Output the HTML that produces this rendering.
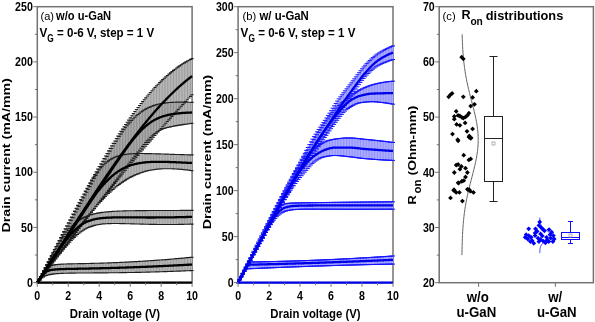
<!DOCTYPE html>
<html><head><meta charset="utf-8"><style>
html,body{margin:0;padding:0;background:#fff;}
body{width:595px;height:322px;overflow:hidden;font-family:"Liberation Sans",sans-serif;}
svg{display:block;will-change:transform;}
</style></head><body>
<svg width="595" height="322" viewBox="0 0 595 322">
<rect width="595" height="322" fill="#fff"/>
<g font-family="Liberation Sans, sans-serif">
<rect x="37.3" y="6.7" width="154.8" height="275.9" fill="none" stroke="#727272" stroke-width="1.5"/>

<path d="M37.30 282.60L38.85 279.68L40.40 276.82L41.94 274.13L43.49 271.76L45.04 269.80L46.59 268.27L48.14 267.12L49.68 266.28L51.23 265.67L52.78 265.23L54.33 264.90L55.88 264.66L57.42 264.47L58.97 264.33L60.52 264.22L62.07 264.13L63.62 264.06L65.16 264.00L66.71 263.95L68.26 263.91L69.81 263.87L71.36 263.83L72.90 263.80L74.45 263.77L76.00 263.73L77.55 263.70L79.10 263.67L80.64 263.64L82.19 263.61L83.74 263.58L85.29 263.55L86.84 263.51L88.38 263.48L89.93 263.44L91.48 263.40L93.03 263.36L94.58 263.32L96.12 263.28L97.67 263.24L99.22 263.19L100.77 263.14L102.32 263.10L103.86 263.04L105.41 262.99L106.96 262.94L108.51 262.88L110.06 262.83L111.60 262.77L113.15 262.71L114.70 262.65L116.25 262.58L117.80 262.52L119.34 262.45L120.89 262.38L122.44 262.31L123.99 262.23L125.54 262.16L127.08 262.08L128.63 262.00L130.18 261.92L131.73 261.84L133.28 261.76L134.82 261.67L136.37 261.59L137.92 261.50L139.47 261.41L141.02 261.31L142.56 261.22L144.11 261.12L145.66 261.02L147.21 260.92L148.76 260.82L150.30 260.72L151.85 260.61L153.40 260.50L154.95 260.39L156.50 260.28L158.04 260.17L159.59 260.05L161.14 259.94L162.69 259.82L164.24 259.70L165.78 259.58L167.33 259.45L168.88 259.33L170.43 259.20L171.98 259.07L173.52 258.94L175.07 258.80L176.62 258.67L178.17 258.53L179.72 258.39L181.26 258.25L182.81 258.11L184.36 257.97L185.91 257.82L187.46 257.67L189.00 257.52L190.55 257.37L192.10 257.22L192.10 270.54L190.55 270.61L189.00 270.68L187.46 270.75L185.91 270.82L184.36 270.88L182.81 270.95L181.26 271.01L179.72 271.08L178.17 271.14L176.62 271.20L175.07 271.26L173.52 271.32L171.98 271.38L170.43 271.43L168.88 271.49L167.33 271.54L165.78 271.60L164.24 271.65L162.69 271.70L161.14 271.75L159.59 271.80L158.04 271.85L156.50 271.89L154.95 271.94L153.40 271.98L151.85 272.03L150.30 272.07L148.76 272.11L147.21 272.15L145.66 272.19L144.11 272.23L142.56 272.26L141.02 272.30L139.47 272.33L137.92 272.37L136.37 272.40L134.82 272.43L133.28 272.46L131.73 272.49L130.18 272.52L128.63 272.55L127.08 272.57L125.54 272.60L123.99 272.62L122.44 272.65L120.89 272.67L119.34 272.69L117.80 272.71L116.25 272.73L114.70 272.75L113.15 272.77L111.60 272.78L110.06 272.80L108.51 272.82L106.96 272.83L105.41 272.84L103.86 272.86L102.32 272.87L100.77 272.88L99.22 272.89L97.67 272.90L96.12 272.91L94.58 272.92L93.03 272.93L91.48 272.94L89.93 272.95L88.38 272.96L86.84 272.97L85.29 272.98L83.74 272.99L82.19 273.00L80.64 273.01L79.10 273.03L77.55 273.04L76.00 273.06L74.45 273.08L72.90 273.10L71.36 273.12L69.81 273.15L68.26 273.18L66.71 273.22L65.16 273.26L63.62 273.31L62.07 273.37L60.52 273.45L58.97 273.54L57.42 273.64L55.88 273.77L54.33 273.92L52.78 274.11L51.23 274.35L49.68 274.64L48.14 275.01L46.59 275.47L45.04 276.06L43.49 276.83L41.94 277.81L40.40 279.08L38.85 280.68L37.30 282.60ZM37.30 282.60L38.85 279.74L40.40 276.88L41.94 274.03L43.49 271.17L45.04 268.32L46.59 265.47L48.14 262.64L49.68 259.82L51.23 257.02L52.78 254.25L54.33 251.52L55.88 248.84L57.42 246.22L58.97 243.66L60.52 241.19L62.07 238.80L63.62 236.52L65.16 234.35L66.71 232.29L68.26 230.36L69.81 228.55L71.36 226.87L72.90 225.31L74.45 223.87L76.00 222.56L77.55 221.36L79.10 220.26L80.64 219.27L82.19 218.37L83.74 217.56L85.29 216.83L86.84 216.18L88.38 215.59L89.93 215.06L91.48 214.58L93.03 214.16L94.58 213.78L96.12 213.43L97.67 213.13L99.22 212.85L100.77 212.61L102.32 212.39L103.86 212.19L105.41 212.02L106.96 211.86L108.51 211.72L110.06 211.59L111.60 211.48L113.15 211.37L114.70 211.28L116.25 211.20L117.80 211.13L119.34 211.06L120.89 211.00L122.44 210.95L123.99 210.90L125.54 210.86L127.08 210.82L128.63 210.79L130.18 210.76L131.73 210.73L133.28 210.70L134.82 210.68L136.37 210.66L137.92 210.65L139.47 210.63L141.02 210.62L142.56 210.60L144.11 210.59L145.66 210.58L147.21 210.57L148.76 210.56L150.30 210.55L151.85 210.55L153.40 210.54L154.95 210.53L156.50 210.53L158.04 210.52L159.59 210.52L161.14 210.51L162.69 210.50L164.24 210.50L165.78 210.49L167.33 210.49L168.88 210.48L170.43 210.48L171.98 210.47L173.52 210.46L175.07 210.46L176.62 210.45L178.17 210.44L179.72 210.43L181.26 210.42L182.81 210.42L184.36 210.41L185.91 210.40L187.46 210.39L189.00 210.38L190.55 210.37L192.10 210.35L192.10 224.11L190.55 224.16L189.00 224.20L187.46 224.25L185.91 224.28L184.36 224.32L182.81 224.35L181.26 224.38L179.72 224.40L178.17 224.43L176.62 224.45L175.07 224.46L173.52 224.48L171.98 224.49L170.43 224.49L168.88 224.50L167.33 224.50L165.78 224.50L164.24 224.49L162.69 224.48L161.14 224.47L159.59 224.46L158.04 224.44L156.50 224.43L154.95 224.40L153.40 224.38L151.85 224.35L150.30 224.33L148.76 224.30L147.21 224.26L145.66 224.23L144.11 224.19L142.56 224.15L141.02 224.11L139.47 224.07L137.92 224.03L136.37 223.98L134.82 223.94L133.28 223.90L131.73 223.85L130.18 223.81L128.63 223.76L127.08 223.72L125.54 223.68L123.99 223.64L122.44 223.61L120.89 223.58L119.34 223.56L117.80 223.54L116.25 223.53L114.70 223.52L113.15 223.53L111.60 223.55L110.06 223.59L108.51 223.64L106.96 223.71L105.41 223.81L103.86 223.92L102.32 224.07L100.77 224.26L99.22 224.48L97.67 224.74L96.12 225.05L94.58 225.41L93.03 225.84L91.48 226.33L89.93 226.89L88.38 227.53L86.84 228.25L85.29 229.06L83.74 229.96L82.19 230.95L80.64 232.04L79.10 233.23L77.55 234.51L76.00 235.87L74.45 237.33L72.90 238.86L71.36 240.47L69.81 242.14L68.26 243.87L66.71 245.65L65.16 247.47L63.62 249.32L62.07 251.21L60.52 253.12L58.97 255.04L57.42 256.98L55.88 258.93L54.33 260.89L52.78 262.86L51.23 264.83L49.68 266.80L48.14 268.77L46.59 270.75L45.04 272.72L43.49 274.70L41.94 276.67L40.40 278.65L38.85 280.62L37.30 282.60ZM37.30 282.60L38.85 279.63L40.40 276.66L41.94 273.69L43.49 270.73L45.04 267.76L46.59 264.79L48.14 261.82L49.68 258.85L51.23 255.88L52.78 252.91L54.33 249.94L55.88 246.98L57.42 244.01L58.97 241.04L60.52 238.07L62.07 235.10L63.62 232.14L65.16 229.17L66.71 226.21L68.26 223.25L69.81 220.29L71.36 217.34L72.90 214.39L74.45 211.45L76.00 208.53L77.55 205.61L79.10 202.72L80.64 199.84L82.19 197.00L83.74 194.18L85.29 191.41L86.84 188.69L88.38 186.03L89.93 183.43L91.48 180.91L93.03 178.48L94.58 176.15L96.12 173.93L97.67 171.83L99.22 169.85L100.77 168.01L102.32 166.30L103.86 164.73L105.41 163.29L106.96 161.99L108.51 160.83L110.06 159.78L111.60 158.86L113.15 158.04L114.70 157.32L116.25 156.70L117.80 156.16L119.34 155.69L120.89 155.29L122.44 154.95L123.99 154.66L125.54 154.42L127.08 154.22L128.63 154.05L130.18 153.92L131.73 153.81L133.28 153.72L134.82 153.66L136.37 153.61L137.92 153.58L139.47 153.56L141.02 153.55L142.56 153.55L144.11 153.56L145.66 153.58L147.21 153.60L148.76 153.63L150.30 153.66L151.85 153.70L153.40 153.74L154.95 153.78L156.50 153.83L158.04 153.88L159.59 153.92L161.14 153.97L162.69 154.02L164.24 154.07L165.78 154.12L167.33 154.17L168.88 154.23L170.43 154.28L171.98 154.33L173.52 154.38L175.07 154.43L176.62 154.47L178.17 154.52L179.72 154.57L181.26 154.62L182.81 154.66L184.36 154.71L185.91 154.75L187.46 154.79L189.00 154.83L190.55 154.87L192.10 154.91L192.10 170.69L190.55 170.47L189.00 170.27L187.46 170.07L185.91 169.89L184.36 169.71L182.81 169.55L181.26 169.40L179.72 169.26L178.17 169.13L176.62 169.02L175.07 168.93L173.52 168.85L171.98 168.79L170.43 168.74L168.88 168.72L167.33 168.71L165.78 168.72L164.24 168.76L162.69 168.82L161.14 168.90L159.59 169.01L158.04 169.15L156.50 169.31L154.95 169.50L153.40 169.72L151.85 169.97L150.30 170.25L148.76 170.57L147.21 170.92L145.66 171.31L144.11 171.73L142.56 172.20L141.02 172.70L139.47 173.24L137.92 173.83L136.37 174.45L134.82 175.12L133.28 175.84L131.73 176.59L130.18 177.40L128.63 178.25L127.08 179.15L125.54 180.09L123.99 181.08L122.44 182.12L120.89 183.20L119.34 184.34L117.80 185.51L116.25 186.74L114.70 188.01L113.15 189.33L111.60 190.69L110.06 192.09L108.51 193.54L106.96 195.02L105.41 196.55L103.86 198.11L102.32 199.72L100.77 201.35L99.22 203.03L97.67 204.73L96.12 206.47L94.58 208.23L93.03 210.02L91.48 211.84L89.93 213.68L88.38 215.55L86.84 217.44L85.29 219.34L83.74 221.27L82.19 223.21L80.64 225.17L79.10 227.14L77.55 229.13L76.00 231.12L74.45 233.13L72.90 235.15L71.36 237.17L69.81 239.21L68.26 241.25L66.71 243.29L65.16 245.34L63.62 247.40L62.07 249.45L60.52 251.52L58.97 253.58L57.42 255.65L55.88 257.72L54.33 259.79L52.78 261.86L51.23 263.93L49.68 266.00L48.14 268.08L46.59 270.15L45.04 272.23L43.49 274.30L41.94 276.38L40.40 278.45L38.85 280.53L37.30 282.60ZM37.30 282.60L38.85 279.77L40.40 276.95L41.94 274.12L43.49 271.30L45.04 268.47L46.59 265.65L48.14 262.82L49.68 260.00L51.23 257.17L52.78 254.35L54.33 251.52L55.88 248.70L57.42 245.87L58.97 243.05L60.52 240.22L62.07 237.40L63.62 234.57L65.16 231.75L66.71 228.92L68.26 226.10L69.81 223.27L71.36 220.45L72.90 217.62L74.45 214.80L76.00 211.98L77.55 209.15L79.10 206.33L80.64 203.51L82.19 200.69L83.74 197.87L85.29 195.06L86.84 192.24L88.38 189.43L89.93 186.63L91.48 183.83L93.03 181.03L94.58 178.24L96.12 175.46L97.67 172.69L99.22 169.93L100.77 167.18L102.32 164.45L103.86 161.74L105.41 159.05L106.96 156.38L108.51 153.74L110.06 151.13L111.60 148.56L113.15 146.03L114.70 143.54L116.25 141.09L117.80 138.70L119.34 136.37L120.89 134.11L122.44 131.91L123.99 129.78L125.54 127.73L127.08 125.76L128.63 123.88L130.18 122.08L131.73 120.38L133.28 118.76L134.82 117.24L136.37 115.81L137.92 114.47L139.47 113.23L141.02 112.07L142.56 111.00L144.11 110.01L145.66 109.10L147.21 108.28L148.76 107.52L150.30 106.83L151.85 106.21L153.40 105.65L154.95 105.14L156.50 104.69L158.04 104.29L159.59 103.94L161.14 103.62L162.69 103.34L164.24 103.10L165.78 102.89L167.33 102.72L168.88 102.56L170.43 102.44L171.98 102.33L173.52 102.25L175.07 102.19L176.62 102.14L178.17 102.11L179.72 102.09L181.26 102.08L182.81 102.09L184.36 102.11L185.91 102.14L187.46 102.17L189.00 102.22L190.55 102.27L192.10 102.33L192.10 123.24L190.55 123.48L189.00 123.71L187.46 123.95L185.91 124.18L184.36 124.42L182.81 124.66L181.26 124.90L179.72 125.14L178.17 125.39L176.62 125.65L175.07 125.92L173.52 126.20L171.98 126.50L170.43 126.83L168.88 127.18L167.33 127.56L165.78 128.00L164.24 128.49L162.69 129.05L161.14 129.70L159.59 130.46L158.04 131.32L156.50 132.31L154.95 133.43L153.40 134.69L151.85 136.07L150.30 137.57L148.76 139.18L147.21 140.88L145.66 142.65L144.11 144.48L142.56 146.35L141.02 148.26L139.47 150.20L137.92 152.16L136.37 154.13L134.82 156.12L133.28 158.11L131.73 160.10L130.18 162.10L128.63 164.11L127.08 166.11L125.54 168.12L123.99 170.12L122.44 172.13L120.89 174.14L119.34 176.15L117.80 178.16L116.25 180.16L114.70 182.17L113.15 184.18L111.60 186.19L110.06 188.20L108.51 190.21L106.96 192.22L105.41 194.22L103.86 196.23L102.32 198.24L100.77 200.25L99.22 202.26L97.67 204.27L96.12 206.28L94.58 208.28L93.03 210.29L91.48 212.30L89.93 214.31L88.38 216.32L86.84 218.33L85.29 220.33L83.74 222.34L82.19 224.35L80.64 226.36L79.10 228.37L77.55 230.38L76.00 232.39L74.45 234.39L72.90 236.40L71.36 238.41L69.81 240.42L68.26 242.43L66.71 244.44L65.16 246.45L63.62 248.45L62.07 250.46L60.52 252.47L58.97 254.48L57.42 256.49L55.88 258.50L54.33 260.51L52.78 262.51L51.23 264.52L49.68 266.53L48.14 268.54L46.59 270.55L45.04 272.56L43.49 274.57L41.94 276.57L40.40 278.58L38.85 280.59L37.30 282.60ZM37.30 282.60L38.85 279.59L40.40 276.57L41.94 273.56L43.49 270.55L45.04 267.54L46.59 264.53L48.14 261.53L49.68 258.53L51.23 255.52L52.78 252.53L54.33 249.53L55.88 246.54L57.42 243.56L58.97 240.58L60.52 237.60L62.07 234.64L63.62 231.67L65.16 228.72L66.71 225.77L68.26 222.83L69.81 219.90L71.36 216.98L72.90 214.06L74.45 211.16L76.00 208.26L77.55 205.38L79.10 202.51L80.64 199.65L82.19 196.81L83.74 193.97L85.29 191.16L86.84 188.35L88.38 185.56L89.93 182.79L91.48 180.03L93.03 177.29L94.58 174.56L96.12 171.85L97.67 169.16L99.22 166.49L100.77 163.84L102.32 161.21L103.86 158.60L105.41 156.01L106.96 153.45L108.51 150.90L110.06 148.38L111.60 145.88L113.15 143.41L114.70 140.96L116.25 138.53L117.80 136.13L119.34 133.76L120.89 131.41L122.44 129.09L123.99 126.80L125.54 124.53L127.08 122.30L128.63 120.09L130.18 117.91L131.73 115.77L133.28 113.65L134.82 111.56L136.37 109.51L137.92 107.48L139.47 105.49L141.02 103.53L142.56 101.61L144.11 99.71L145.66 97.85L147.21 96.02L148.76 94.23L150.30 92.47L151.85 90.75L153.40 89.06L154.95 87.41L156.50 85.79L158.04 84.21L159.59 82.66L161.14 81.15L162.69 79.67L164.24 78.23L165.78 76.83L167.33 75.46L168.88 74.13L170.43 72.84L171.98 71.58L173.52 70.36L175.07 69.18L176.62 68.03L178.17 66.92L179.72 65.85L181.26 64.81L182.81 63.81L184.36 62.85L185.91 61.92L187.46 61.03L189.00 60.18L190.55 59.36L192.10 58.58L192.10 94.79L190.55 96.42L189.00 98.05L187.46 99.68L185.91 101.33L184.36 102.98L182.81 104.63L181.26 106.29L179.72 107.96L178.17 109.64L176.62 111.32L175.07 113.01L173.52 114.70L171.98 116.41L170.43 118.11L168.88 119.83L167.33 121.55L165.78 123.27L164.24 125.00L162.69 126.74L161.14 128.49L159.59 130.24L158.04 131.99L156.50 133.76L154.95 135.52L153.40 137.30L151.85 139.08L150.30 140.86L148.76 142.65L147.21 144.45L145.66 146.25L144.11 148.06L142.56 149.88L141.02 151.70L139.47 153.52L137.92 155.35L136.37 157.19L134.82 159.03L133.28 160.87L131.73 162.73L130.18 164.58L128.63 166.44L127.08 168.31L125.54 170.18L123.99 172.06L122.44 173.94L120.89 175.83L119.34 177.72L117.80 179.62L116.25 181.52L114.70 183.42L113.15 185.33L111.60 187.25L110.06 189.17L108.51 191.09L106.96 193.02L105.41 194.95L103.86 196.89L102.32 198.83L100.77 200.77L99.22 202.72L97.67 204.68L96.12 206.63L94.58 208.60L93.03 210.56L91.48 212.53L89.93 214.50L88.38 216.48L86.84 218.46L85.29 220.45L83.74 222.43L82.19 224.43L80.64 226.42L79.10 228.42L77.55 230.42L76.00 232.43L74.45 234.44L72.90 236.45L71.36 238.47L69.81 240.49L68.26 242.51L66.71 244.54L65.16 246.57L63.62 248.61L62.07 250.65L60.52 252.69L58.97 254.74L57.42 256.80L55.88 258.86L54.33 260.93L52.78 263.00L51.23 265.09L49.68 267.19L48.14 269.30L46.59 271.44L45.04 273.59L43.49 275.78L41.94 278.00L40.40 280.24L38.85 281.50L37.30 282.60Z" fill="#cacaca" stroke="none"/>
<path d="M37.30 282.60V282.60M38.85 279.68V280.68M40.40 276.82V279.08M41.94 274.13V277.81M43.49 271.76V276.83M45.04 269.80V276.06M46.59 268.27V275.47M48.14 267.12V275.01M49.68 266.28V274.64M51.23 265.67V274.35M52.78 265.23V274.11M54.33 264.90V273.92M55.88 264.66V273.77M57.42 264.47V273.64M58.97 264.33V273.54M60.52 264.22V273.45M62.07 264.13V273.37M63.62 264.06V273.31M65.16 264.00V273.26M66.71 263.95V273.22M68.26 263.91V273.18M69.81 263.87V273.15M71.36 263.83V273.12M72.90 263.80V273.10M74.45 263.77V273.08M76.00 263.73V273.06M77.55 263.70V273.04M79.10 263.67V273.03M80.64 263.64V273.01M82.19 263.61V273.00M83.74 263.58V272.99M85.29 263.55V272.98M86.84 263.51V272.97M88.38 263.48V272.96M89.93 263.44V272.95M91.48 263.40V272.94M93.03 263.36V272.93M94.58 263.32V272.92M96.12 263.28V272.91M97.67 263.24V272.90M99.22 263.19V272.89M100.77 263.14V272.88M102.32 263.10V272.87M103.86 263.04V272.86M105.41 262.99V272.84M106.96 262.94V272.83M108.51 262.88V272.82M110.06 262.83V272.80M111.60 262.77V272.78M113.15 262.71V272.77M114.70 262.65V272.75M116.25 262.58V272.73M117.80 262.52V272.71M119.34 262.45V272.69M120.89 262.38V272.67M122.44 262.31V272.65M123.99 262.23V272.62M125.54 262.16V272.60M127.08 262.08V272.57M128.63 262.00V272.55M130.18 261.92V272.52M131.73 261.84V272.49M133.28 261.76V272.46M134.82 261.67V272.43M136.37 261.59V272.40M137.92 261.50V272.37M139.47 261.41V272.33M141.02 261.31V272.30M142.56 261.22V272.26M144.11 261.12V272.23M145.66 261.02V272.19M147.21 260.92V272.15M148.76 260.82V272.11M150.30 260.72V272.07M151.85 260.61V272.03M153.40 260.50V271.98M154.95 260.39V271.94M156.50 260.28V271.89M158.04 260.17V271.85M159.59 260.05V271.80M161.14 259.94V271.75M162.69 259.82V271.70M164.24 259.70V271.65M165.78 259.58V271.60M167.33 259.45V271.54M168.88 259.33V271.49M170.43 259.20V271.43M171.98 259.07V271.38M173.52 258.94V271.32M175.07 258.80V271.26M176.62 258.67V271.20M178.17 258.53V271.14M179.72 258.39V271.08M181.26 258.25V271.01M182.81 258.11V270.95M184.36 257.97V270.88M185.91 257.82V270.82M187.46 257.67V270.75M189.00 257.52V270.68M190.55 257.37V270.61M192.10 257.22V270.54M37.30 282.60V282.60M38.85 279.74V280.62M40.40 276.88V278.65M41.94 274.03V276.67M43.49 271.17V274.70M45.04 268.32V272.72M46.59 265.47V270.75M48.14 262.64V268.77M49.68 259.82V266.80M51.23 257.02V264.83M52.78 254.25V262.86M54.33 251.52V260.89M55.88 248.84V258.93M57.42 246.22V256.98M58.97 243.66V255.04M60.52 241.19V253.12M62.07 238.80V251.21M63.62 236.52V249.32M65.16 234.35V247.47M66.71 232.29V245.65M68.26 230.36V243.87M69.81 228.55V242.14M71.36 226.87V240.47M72.90 225.31V238.86M74.45 223.87V237.33M76.00 222.56V235.87M77.55 221.36V234.51M79.10 220.26V233.23M80.64 219.27V232.04M82.19 218.37V230.95M83.74 217.56V229.96M85.29 216.83V229.06M86.84 216.18V228.25M88.38 215.59V227.53M89.93 215.06V226.89M91.48 214.58V226.33M93.03 214.16V225.84M94.58 213.78V225.41M96.12 213.43V225.05M97.67 213.13V224.74M99.22 212.85V224.48M100.77 212.61V224.26M102.32 212.39V224.07M103.86 212.19V223.92M105.41 212.02V223.81M106.96 211.86V223.71M108.51 211.72V223.64M110.06 211.59V223.59M111.60 211.48V223.55M113.15 211.37V223.53M114.70 211.28V223.52M116.25 211.20V223.53M117.80 211.13V223.54M119.34 211.06V223.56M120.89 211.00V223.58M122.44 210.95V223.61M123.99 210.90V223.64M125.54 210.86V223.68M127.08 210.82V223.72M128.63 210.79V223.76M130.18 210.76V223.81M131.73 210.73V223.85M133.28 210.70V223.90M134.82 210.68V223.94M136.37 210.66V223.98M137.92 210.65V224.03M139.47 210.63V224.07M141.02 210.62V224.11M142.56 210.60V224.15M144.11 210.59V224.19M145.66 210.58V224.23M147.21 210.57V224.26M148.76 210.56V224.30M150.30 210.55V224.33M151.85 210.55V224.35M153.40 210.54V224.38M154.95 210.53V224.40M156.50 210.53V224.43M158.04 210.52V224.44M159.59 210.52V224.46M161.14 210.51V224.47M162.69 210.50V224.48M164.24 210.50V224.49M165.78 210.49V224.50M167.33 210.49V224.50M168.88 210.48V224.50M170.43 210.48V224.49M171.98 210.47V224.49M173.52 210.46V224.48M175.07 210.46V224.46M176.62 210.45V224.45M178.17 210.44V224.43M179.72 210.43V224.40M181.26 210.42V224.38M182.81 210.42V224.35M184.36 210.41V224.32M185.91 210.40V224.28M187.46 210.39V224.25M189.00 210.38V224.20M190.55 210.37V224.16M192.10 210.35V224.11M37.30 282.60V282.60M38.85 279.63V280.53M40.40 276.66V278.45M41.94 273.69V276.38M43.49 270.73V274.30M45.04 267.76V272.23M46.59 264.79V270.15M48.14 261.82V268.08M49.68 258.85V266.00M51.23 255.88V263.93M52.78 252.91V261.86M54.33 249.94V259.79M55.88 246.98V257.72M57.42 244.01V255.65M58.97 241.04V253.58M60.52 238.07V251.52M62.07 235.10V249.45M63.62 232.14V247.40M65.16 229.17V245.34M66.71 226.21V243.29M68.26 223.25V241.25M69.81 220.29V239.21M71.36 217.34V237.17M72.90 214.39V235.15M74.45 211.45V233.13M76.00 208.53V231.12M77.55 205.61V229.13M79.10 202.72V227.14M80.64 199.84V225.17M82.19 197.00V223.21M83.74 194.18V221.27M85.29 191.41V219.34M86.84 188.69V217.44M88.38 186.03V215.55M89.93 183.43V213.68M91.48 180.91V211.84M93.03 178.48V210.02M94.58 176.15V208.23M96.12 173.93V206.47M97.67 171.83V204.73M99.22 169.85V203.03M100.77 168.01V201.35M102.32 166.30V199.72M103.86 164.73V198.11M105.41 163.29V196.55M106.96 161.99V195.02M108.51 160.83V193.54M110.06 159.78V192.09M111.60 158.86V190.69M113.15 158.04V189.33M114.70 157.32V188.01M116.25 156.70V186.74M117.80 156.16V185.51M119.34 155.69V184.34M120.89 155.29V183.20M122.44 154.95V182.12M123.99 154.66V181.08M125.54 154.42V180.09M127.08 154.22V179.15M128.63 154.05V178.25M130.18 153.92V177.40M131.73 153.81V176.59M133.28 153.72V175.84M134.82 153.66V175.12M136.37 153.61V174.45M137.92 153.58V173.83M139.47 153.56V173.24M141.02 153.55V172.70M142.56 153.55V172.20M144.11 153.56V171.73M145.66 153.58V171.31M147.21 153.60V170.92M148.76 153.63V170.57M150.30 153.66V170.25M151.85 153.70V169.97M153.40 153.74V169.72M154.95 153.78V169.50M156.50 153.83V169.31M158.04 153.88V169.15M159.59 153.92V169.01M161.14 153.97V168.90M162.69 154.02V168.82M164.24 154.07V168.76M165.78 154.12V168.72M167.33 154.17V168.71M168.88 154.23V168.72M170.43 154.28V168.74M171.98 154.33V168.79M173.52 154.38V168.85M175.07 154.43V168.93M176.62 154.47V169.02M178.17 154.52V169.13M179.72 154.57V169.26M181.26 154.62V169.40M182.81 154.66V169.55M184.36 154.71V169.71M185.91 154.75V169.89M187.46 154.79V170.07M189.00 154.83V170.27M190.55 154.87V170.47M192.10 154.91V170.69M37.30 282.60V282.60M38.85 279.77V280.59M40.40 276.95V278.58M41.94 274.12V276.57M43.49 271.30V274.57M45.04 268.47V272.56M46.59 265.65V270.55M48.14 262.82V268.54M49.68 260.00V266.53M51.23 257.17V264.52M52.78 254.35V262.51M54.33 251.52V260.51M55.88 248.70V258.50M57.42 245.87V256.49M58.97 243.05V254.48M60.52 240.22V252.47M62.07 237.40V250.46M63.62 234.57V248.45M65.16 231.75V246.45M66.71 228.92V244.44M68.26 226.10V242.43M69.81 223.27V240.42M71.36 220.45V238.41M72.90 217.62V236.40M74.45 214.80V234.39M76.00 211.98V232.39M77.55 209.15V230.38M79.10 206.33V228.37M80.64 203.51V226.36M82.19 200.69V224.35M83.74 197.87V222.34M85.29 195.06V220.33M86.84 192.24V218.33M88.38 189.43V216.32M89.93 186.63V214.31M91.48 183.83V212.30M93.03 181.03V210.29M94.58 178.24V208.28M96.12 175.46V206.28M97.67 172.69V204.27M99.22 169.93V202.26M100.77 167.18V200.25M102.32 164.45V198.24M103.86 161.74V196.23M105.41 159.05V194.22M106.96 156.38V192.22M108.51 153.74V190.21M110.06 151.13V188.20M111.60 148.56V186.19M113.15 146.03V184.18M114.70 143.54V182.17M116.25 141.09V180.16M117.80 138.70V178.16M119.34 136.37V176.15M120.89 134.11V174.14M122.44 131.91V172.13M123.99 129.78V170.12M125.54 127.73V168.12M127.08 125.76V166.11M128.63 123.88V164.11M130.18 122.08V162.10M131.73 120.38V160.10M133.28 118.76V158.11M134.82 117.24V156.12M136.37 115.81V154.13M137.92 114.47V152.16M139.47 113.23V150.20M141.02 112.07V148.26M142.56 111.00V146.35M144.11 110.01V144.48M145.66 109.10V142.65M147.21 108.28V140.88M148.76 107.52V139.18M150.30 106.83V137.57M151.85 106.21V136.07M153.40 105.65V134.69M154.95 105.14V133.43M156.50 104.69V132.31M158.04 104.29V131.32M159.59 103.94V130.46M161.14 103.62V129.70M162.69 103.34V129.05M164.24 103.10V128.49M165.78 102.89V128.00M167.33 102.72V127.56M168.88 102.56V127.18M170.43 102.44V126.83M171.98 102.33V126.50M173.52 102.25V126.20M175.07 102.19V125.92M176.62 102.14V125.65M178.17 102.11V125.39M179.72 102.09V125.14M181.26 102.08V124.90M182.81 102.09V124.66M184.36 102.11V124.42M185.91 102.14V124.18M187.46 102.17V123.95M189.00 102.22V123.71M190.55 102.27V123.48M192.10 102.33V123.24M37.30 282.60V282.60M38.85 279.59V281.50M40.40 276.57V280.24M41.94 273.56V278.00M43.49 270.55V275.78M45.04 267.54V273.59M46.59 264.53V271.44M48.14 261.53V269.30M49.68 258.53V267.19M51.23 255.52V265.09M52.78 252.53V263.00M54.33 249.53V260.93M55.88 246.54V258.86M57.42 243.56V256.80M58.97 240.58V254.74M60.52 237.60V252.69M62.07 234.64V250.65M63.62 231.67V248.61M65.16 228.72V246.57M66.71 225.77V244.54M68.26 222.83V242.51M69.81 219.90V240.49M71.36 216.98V238.47M72.90 214.06V236.45M74.45 211.16V234.44M76.00 208.26V232.43M77.55 205.38V230.42M79.10 202.51V228.42M80.64 199.65V226.42M82.19 196.81V224.43M83.74 193.97V222.43M85.29 191.16V220.45M86.84 188.35V218.46M88.38 185.56V216.48M89.93 182.79V214.50M91.48 180.03V212.53M93.03 177.29V210.56M94.58 174.56V208.60M96.12 171.85V206.63M97.67 169.16V204.68M99.22 166.49V202.72M100.77 163.84V200.77M102.32 161.21V198.83M103.86 158.60V196.89M105.41 156.01V194.95M106.96 153.45V193.02M108.51 150.90V191.09M110.06 148.38V189.17M111.60 145.88V187.25M113.15 143.41V185.33M114.70 140.96V183.42M116.25 138.53V181.52M117.80 136.13V179.62M119.34 133.76V177.72M120.89 131.41V175.83M122.44 129.09V173.94M123.99 126.80V172.06M125.54 124.53V170.18M127.08 122.30V168.31M128.63 120.09V166.44M130.18 117.91V164.58M131.73 115.77V162.73M133.28 113.65V160.87M134.82 111.56V159.03M136.37 109.51V157.19M137.92 107.48V155.35M139.47 105.49V153.52M141.02 103.53V151.70M142.56 101.61V149.88M144.11 99.71V148.06M145.66 97.85V146.25M147.21 96.02V144.45M148.76 94.23V142.65M150.30 92.47V140.86M151.85 90.75V139.08M153.40 89.06V137.30M154.95 87.41V135.52M156.50 85.79V133.76M158.04 84.21V131.99M159.59 82.66V130.24M161.14 81.15V128.49M162.69 79.67V126.74M164.24 78.23V125.00M165.78 76.83V123.27M167.33 75.46V121.55M168.88 74.13V119.83M170.43 72.84V118.11M171.98 71.58V116.41M173.52 70.36V114.70M175.07 69.18V113.01M176.62 68.03V111.32M178.17 66.92V109.64M179.72 65.85V107.96M181.26 64.81V106.29M182.81 63.81V104.63M184.36 62.85V102.98M185.91 61.92V101.33M187.46 61.03V99.68M189.00 60.18V98.05M190.55 59.36V96.42M192.10 58.58V94.79" stroke="#8a8a8a" stroke-width="0.7" fill="none"/>
<path d="M35.80 282.60h3.0M35.80 282.60h3.0M37.35 279.68h3.0M37.35 280.68h3.0M38.90 276.82h3.0M38.90 279.08h3.0M40.44 274.13h3.0M40.44 277.81h3.0M41.99 271.76h3.0M41.99 276.83h3.0M43.54 269.80h3.0M43.54 276.06h3.0M45.09 268.27h3.0M45.09 275.47h3.0M46.64 267.12h3.0M46.64 275.01h3.0M48.18 266.28h3.0M48.18 274.64h3.0M49.73 265.67h3.0M49.73 274.35h3.0M51.28 265.23h3.0M51.28 274.11h3.0M52.83 264.90h3.0M52.83 273.92h3.0M54.38 264.66h3.0M54.38 273.77h3.0M55.92 264.47h3.0M55.92 273.64h3.0M57.47 264.33h3.0M57.47 273.54h3.0M59.02 264.22h3.0M59.02 273.45h3.0M60.57 264.13h3.0M60.57 273.37h3.0M62.12 264.06h3.0M62.12 273.31h3.0M63.66 264.00h3.0M63.66 273.26h3.0M65.21 263.95h3.0M65.21 273.22h3.0M66.76 263.91h3.0M66.76 273.18h3.0M68.31 263.87h3.0M68.31 273.15h3.0M69.86 263.83h3.0M69.86 273.12h3.0M71.40 263.80h3.0M71.40 273.10h3.0M72.95 263.77h3.0M72.95 273.08h3.0M74.50 263.73h3.0M74.50 273.06h3.0M76.05 263.70h3.0M76.05 273.04h3.0M77.60 263.67h3.0M77.60 273.03h3.0M79.14 263.64h3.0M79.14 273.01h3.0M80.69 263.61h3.0M80.69 273.00h3.0M82.24 263.58h3.0M82.24 272.99h3.0M83.79 263.55h3.0M83.79 272.98h3.0M85.34 263.51h3.0M85.34 272.97h3.0M86.88 263.48h3.0M86.88 272.96h3.0M88.43 263.44h3.0M88.43 272.95h3.0M89.98 263.40h3.0M89.98 272.94h3.0M91.53 263.36h3.0M91.53 272.93h3.0M93.08 263.32h3.0M93.08 272.92h3.0M94.62 263.28h3.0M94.62 272.91h3.0M96.17 263.24h3.0M96.17 272.90h3.0M97.72 263.19h3.0M97.72 272.89h3.0M99.27 263.14h3.0M99.27 272.88h3.0M100.82 263.10h3.0M100.82 272.87h3.0M102.36 263.04h3.0M102.36 272.86h3.0M103.91 262.99h3.0M103.91 272.84h3.0M105.46 262.94h3.0M105.46 272.83h3.0M107.01 262.88h3.0M107.01 272.82h3.0M108.56 262.83h3.0M108.56 272.80h3.0M110.10 262.77h3.0M110.10 272.78h3.0M111.65 262.71h3.0M111.65 272.77h3.0M113.20 262.65h3.0M113.20 272.75h3.0M114.75 262.58h3.0M114.75 272.73h3.0M116.30 262.52h3.0M116.30 272.71h3.0M117.84 262.45h3.0M117.84 272.69h3.0M119.39 262.38h3.0M119.39 272.67h3.0M120.94 262.31h3.0M120.94 272.65h3.0M122.49 262.23h3.0M122.49 272.62h3.0M124.04 262.16h3.0M124.04 272.60h3.0M125.58 262.08h3.0M125.58 272.57h3.0M127.13 262.00h3.0M127.13 272.55h3.0M128.68 261.92h3.0M128.68 272.52h3.0M130.23 261.84h3.0M130.23 272.49h3.0M131.78 261.76h3.0M131.78 272.46h3.0M133.32 261.67h3.0M133.32 272.43h3.0M134.87 261.59h3.0M134.87 272.40h3.0M136.42 261.50h3.0M136.42 272.37h3.0M137.97 261.41h3.0M137.97 272.33h3.0M139.52 261.31h3.0M139.52 272.30h3.0M141.06 261.22h3.0M141.06 272.26h3.0M142.61 261.12h3.0M142.61 272.23h3.0M144.16 261.02h3.0M144.16 272.19h3.0M145.71 260.92h3.0M145.71 272.15h3.0M147.26 260.82h3.0M147.26 272.11h3.0M148.80 260.72h3.0M148.80 272.07h3.0M150.35 260.61h3.0M150.35 272.03h3.0M151.90 260.50h3.0M151.90 271.98h3.0M153.45 260.39h3.0M153.45 271.94h3.0M155.00 260.28h3.0M155.00 271.89h3.0M156.54 260.17h3.0M156.54 271.85h3.0M158.09 260.05h3.0M158.09 271.80h3.0M159.64 259.94h3.0M159.64 271.75h3.0M161.19 259.82h3.0M161.19 271.70h3.0M162.74 259.70h3.0M162.74 271.65h3.0M164.28 259.58h3.0M164.28 271.60h3.0M165.83 259.45h3.0M165.83 271.54h3.0M167.38 259.33h3.0M167.38 271.49h3.0M168.93 259.20h3.0M168.93 271.43h3.0M170.48 259.07h3.0M170.48 271.38h3.0M172.02 258.94h3.0M172.02 271.32h3.0M173.57 258.80h3.0M173.57 271.26h3.0M175.12 258.67h3.0M175.12 271.20h3.0M176.67 258.53h3.0M176.67 271.14h3.0M178.22 258.39h3.0M178.22 271.08h3.0M179.76 258.25h3.0M179.76 271.01h3.0M181.31 258.11h3.0M181.31 270.95h3.0M182.86 257.97h3.0M182.86 270.88h3.0M184.41 257.82h3.0M184.41 270.82h3.0M185.96 257.67h3.0M185.96 270.75h3.0M187.50 257.52h3.0M187.50 270.68h3.0M189.05 257.37h3.0M189.05 270.61h3.0M190.60 257.22h3.0M190.60 270.54h3.0M35.80 282.60h3.0M35.80 282.60h3.0M37.35 279.74h3.0M37.35 280.62h3.0M38.90 276.88h3.0M38.90 278.65h3.0M40.44 274.03h3.0M40.44 276.67h3.0M41.99 271.17h3.0M41.99 274.70h3.0M43.54 268.32h3.0M43.54 272.72h3.0M45.09 265.47h3.0M45.09 270.75h3.0M46.64 262.64h3.0M46.64 268.77h3.0M48.18 259.82h3.0M48.18 266.80h3.0M49.73 257.02h3.0M49.73 264.83h3.0M51.28 254.25h3.0M51.28 262.86h3.0M52.83 251.52h3.0M52.83 260.89h3.0M54.38 248.84h3.0M54.38 258.93h3.0M55.92 246.22h3.0M55.92 256.98h3.0M57.47 243.66h3.0M57.47 255.04h3.0M59.02 241.19h3.0M59.02 253.12h3.0M60.57 238.80h3.0M60.57 251.21h3.0M62.12 236.52h3.0M62.12 249.32h3.0M63.66 234.35h3.0M63.66 247.47h3.0M65.21 232.29h3.0M65.21 245.65h3.0M66.76 230.36h3.0M66.76 243.87h3.0M68.31 228.55h3.0M68.31 242.14h3.0M69.86 226.87h3.0M69.86 240.47h3.0M71.40 225.31h3.0M71.40 238.86h3.0M72.95 223.87h3.0M72.95 237.33h3.0M74.50 222.56h3.0M74.50 235.87h3.0M76.05 221.36h3.0M76.05 234.51h3.0M77.60 220.26h3.0M77.60 233.23h3.0M79.14 219.27h3.0M79.14 232.04h3.0M80.69 218.37h3.0M80.69 230.95h3.0M82.24 217.56h3.0M82.24 229.96h3.0M83.79 216.83h3.0M83.79 229.06h3.0M85.34 216.18h3.0M85.34 228.25h3.0M86.88 215.59h3.0M86.88 227.53h3.0M88.43 215.06h3.0M88.43 226.89h3.0M89.98 214.58h3.0M89.98 226.33h3.0M91.53 214.16h3.0M91.53 225.84h3.0M93.08 213.78h3.0M93.08 225.41h3.0M94.62 213.43h3.0M94.62 225.05h3.0M96.17 213.13h3.0M96.17 224.74h3.0M97.72 212.85h3.0M97.72 224.48h3.0M99.27 212.61h3.0M99.27 224.26h3.0M100.82 212.39h3.0M100.82 224.07h3.0M102.36 212.19h3.0M102.36 223.92h3.0M103.91 212.02h3.0M103.91 223.81h3.0M105.46 211.86h3.0M105.46 223.71h3.0M107.01 211.72h3.0M107.01 223.64h3.0M108.56 211.59h3.0M108.56 223.59h3.0M110.10 211.48h3.0M110.10 223.55h3.0M111.65 211.37h3.0M111.65 223.53h3.0M113.20 211.28h3.0M113.20 223.52h3.0M114.75 211.20h3.0M114.75 223.53h3.0M116.30 211.13h3.0M116.30 223.54h3.0M117.84 211.06h3.0M117.84 223.56h3.0M119.39 211.00h3.0M119.39 223.58h3.0M120.94 210.95h3.0M120.94 223.61h3.0M122.49 210.90h3.0M122.49 223.64h3.0M124.04 210.86h3.0M124.04 223.68h3.0M125.58 210.82h3.0M125.58 223.72h3.0M127.13 210.79h3.0M127.13 223.76h3.0M128.68 210.76h3.0M128.68 223.81h3.0M130.23 210.73h3.0M130.23 223.85h3.0M131.78 210.70h3.0M131.78 223.90h3.0M133.32 210.68h3.0M133.32 223.94h3.0M134.87 210.66h3.0M134.87 223.98h3.0M136.42 210.65h3.0M136.42 224.03h3.0M137.97 210.63h3.0M137.97 224.07h3.0M139.52 210.62h3.0M139.52 224.11h3.0M141.06 210.60h3.0M141.06 224.15h3.0M142.61 210.59h3.0M142.61 224.19h3.0M144.16 210.58h3.0M144.16 224.23h3.0M145.71 210.57h3.0M145.71 224.26h3.0M147.26 210.56h3.0M147.26 224.30h3.0M148.80 210.55h3.0M148.80 224.33h3.0M150.35 210.55h3.0M150.35 224.35h3.0M151.90 210.54h3.0M151.90 224.38h3.0M153.45 210.53h3.0M153.45 224.40h3.0M155.00 210.53h3.0M155.00 224.43h3.0M156.54 210.52h3.0M156.54 224.44h3.0M158.09 210.52h3.0M158.09 224.46h3.0M159.64 210.51h3.0M159.64 224.47h3.0M161.19 210.50h3.0M161.19 224.48h3.0M162.74 210.50h3.0M162.74 224.49h3.0M164.28 210.49h3.0M164.28 224.50h3.0M165.83 210.49h3.0M165.83 224.50h3.0M167.38 210.48h3.0M167.38 224.50h3.0M168.93 210.48h3.0M168.93 224.49h3.0M170.48 210.47h3.0M170.48 224.49h3.0M172.02 210.46h3.0M172.02 224.48h3.0M173.57 210.46h3.0M173.57 224.46h3.0M175.12 210.45h3.0M175.12 224.45h3.0M176.67 210.44h3.0M176.67 224.43h3.0M178.22 210.43h3.0M178.22 224.40h3.0M179.76 210.42h3.0M179.76 224.38h3.0M181.31 210.42h3.0M181.31 224.35h3.0M182.86 210.41h3.0M182.86 224.32h3.0M184.41 210.40h3.0M184.41 224.28h3.0M185.96 210.39h3.0M185.96 224.25h3.0M187.50 210.38h3.0M187.50 224.20h3.0M189.05 210.37h3.0M189.05 224.16h3.0M190.60 210.35h3.0M190.60 224.11h3.0M35.80 282.60h3.0M35.80 282.60h3.0M37.35 279.63h3.0M37.35 280.53h3.0M38.90 276.66h3.0M38.90 278.45h3.0M40.44 273.69h3.0M40.44 276.38h3.0M41.99 270.73h3.0M41.99 274.30h3.0M43.54 267.76h3.0M43.54 272.23h3.0M45.09 264.79h3.0M45.09 270.15h3.0M46.64 261.82h3.0M46.64 268.08h3.0M48.18 258.85h3.0M48.18 266.00h3.0M49.73 255.88h3.0M49.73 263.93h3.0M51.28 252.91h3.0M51.28 261.86h3.0M52.83 249.94h3.0M52.83 259.79h3.0M54.38 246.98h3.0M54.38 257.72h3.0M55.92 244.01h3.0M55.92 255.65h3.0M57.47 241.04h3.0M57.47 253.58h3.0M59.02 238.07h3.0M59.02 251.52h3.0M60.57 235.10h3.0M60.57 249.45h3.0M62.12 232.14h3.0M62.12 247.40h3.0M63.66 229.17h3.0M63.66 245.34h3.0M65.21 226.21h3.0M65.21 243.29h3.0M66.76 223.25h3.0M66.76 241.25h3.0M68.31 220.29h3.0M68.31 239.21h3.0M69.86 217.34h3.0M69.86 237.17h3.0M71.40 214.39h3.0M71.40 235.15h3.0M72.95 211.45h3.0M72.95 233.13h3.0M74.50 208.53h3.0M74.50 231.12h3.0M76.05 205.61h3.0M76.05 229.13h3.0M77.60 202.72h3.0M77.60 227.14h3.0M79.14 199.84h3.0M79.14 225.17h3.0M80.69 197.00h3.0M80.69 223.21h3.0M82.24 194.18h3.0M82.24 221.27h3.0M83.79 191.41h3.0M83.79 219.34h3.0M85.34 188.69h3.0M85.34 217.44h3.0M86.88 186.03h3.0M86.88 215.55h3.0M88.43 183.43h3.0M88.43 213.68h3.0M89.98 180.91h3.0M89.98 211.84h3.0M91.53 178.48h3.0M91.53 210.02h3.0M93.08 176.15h3.0M93.08 208.23h3.0M94.62 173.93h3.0M94.62 206.47h3.0M96.17 171.83h3.0M96.17 204.73h3.0M97.72 169.85h3.0M97.72 203.03h3.0M99.27 168.01h3.0M99.27 201.35h3.0M100.82 166.30h3.0M100.82 199.72h3.0M102.36 164.73h3.0M102.36 198.11h3.0M103.91 163.29h3.0M103.91 196.55h3.0M105.46 161.99h3.0M105.46 195.02h3.0M107.01 160.83h3.0M107.01 193.54h3.0M108.56 159.78h3.0M108.56 192.09h3.0M110.10 158.86h3.0M110.10 190.69h3.0M111.65 158.04h3.0M111.65 189.33h3.0M113.20 157.32h3.0M113.20 188.01h3.0M114.75 156.70h3.0M114.75 186.74h3.0M116.30 156.16h3.0M116.30 185.51h3.0M117.84 155.69h3.0M117.84 184.34h3.0M119.39 155.29h3.0M119.39 183.20h3.0M120.94 154.95h3.0M120.94 182.12h3.0M122.49 154.66h3.0M122.49 181.08h3.0M124.04 154.42h3.0M124.04 180.09h3.0M125.58 154.22h3.0M125.58 179.15h3.0M127.13 154.05h3.0M127.13 178.25h3.0M128.68 153.92h3.0M128.68 177.40h3.0M130.23 153.81h3.0M130.23 176.59h3.0M131.78 153.72h3.0M131.78 175.84h3.0M133.32 153.66h3.0M133.32 175.12h3.0M134.87 153.61h3.0M134.87 174.45h3.0M136.42 153.58h3.0M136.42 173.83h3.0M137.97 153.56h3.0M137.97 173.24h3.0M139.52 153.55h3.0M139.52 172.70h3.0M141.06 153.55h3.0M141.06 172.20h3.0M142.61 153.56h3.0M142.61 171.73h3.0M144.16 153.58h3.0M144.16 171.31h3.0M145.71 153.60h3.0M145.71 170.92h3.0M147.26 153.63h3.0M147.26 170.57h3.0M148.80 153.66h3.0M148.80 170.25h3.0M150.35 153.70h3.0M150.35 169.97h3.0M151.90 153.74h3.0M151.90 169.72h3.0M153.45 153.78h3.0M153.45 169.50h3.0M155.00 153.83h3.0M155.00 169.31h3.0M156.54 153.88h3.0M156.54 169.15h3.0M158.09 153.92h3.0M158.09 169.01h3.0M159.64 153.97h3.0M159.64 168.90h3.0M161.19 154.02h3.0M161.19 168.82h3.0M162.74 154.07h3.0M162.74 168.76h3.0M164.28 154.12h3.0M164.28 168.72h3.0M165.83 154.17h3.0M165.83 168.71h3.0M167.38 154.23h3.0M167.38 168.72h3.0M168.93 154.28h3.0M168.93 168.74h3.0M170.48 154.33h3.0M170.48 168.79h3.0M172.02 154.38h3.0M172.02 168.85h3.0M173.57 154.43h3.0M173.57 168.93h3.0M175.12 154.47h3.0M175.12 169.02h3.0M176.67 154.52h3.0M176.67 169.13h3.0M178.22 154.57h3.0M178.22 169.26h3.0M179.76 154.62h3.0M179.76 169.40h3.0M181.31 154.66h3.0M181.31 169.55h3.0M182.86 154.71h3.0M182.86 169.71h3.0M184.41 154.75h3.0M184.41 169.89h3.0M185.96 154.79h3.0M185.96 170.07h3.0M187.50 154.83h3.0M187.50 170.27h3.0M189.05 154.87h3.0M189.05 170.47h3.0M190.60 154.91h3.0M190.60 170.69h3.0M35.80 282.60h3.0M35.80 282.60h3.0M37.35 279.77h3.0M37.35 280.59h3.0M38.90 276.95h3.0M38.90 278.58h3.0M40.44 274.12h3.0M40.44 276.57h3.0M41.99 271.30h3.0M41.99 274.57h3.0M43.54 268.47h3.0M43.54 272.56h3.0M45.09 265.65h3.0M45.09 270.55h3.0M46.64 262.82h3.0M46.64 268.54h3.0M48.18 260.00h3.0M48.18 266.53h3.0M49.73 257.17h3.0M49.73 264.52h3.0M51.28 254.35h3.0M51.28 262.51h3.0M52.83 251.52h3.0M52.83 260.51h3.0M54.38 248.70h3.0M54.38 258.50h3.0M55.92 245.87h3.0M55.92 256.49h3.0M57.47 243.05h3.0M57.47 254.48h3.0M59.02 240.22h3.0M59.02 252.47h3.0M60.57 237.40h3.0M60.57 250.46h3.0M62.12 234.57h3.0M62.12 248.45h3.0M63.66 231.75h3.0M63.66 246.45h3.0M65.21 228.92h3.0M65.21 244.44h3.0M66.76 226.10h3.0M66.76 242.43h3.0M68.31 223.27h3.0M68.31 240.42h3.0M69.86 220.45h3.0M69.86 238.41h3.0M71.40 217.62h3.0M71.40 236.40h3.0M72.95 214.80h3.0M72.95 234.39h3.0M74.50 211.98h3.0M74.50 232.39h3.0M76.05 209.15h3.0M76.05 230.38h3.0M77.60 206.33h3.0M77.60 228.37h3.0M79.14 203.51h3.0M79.14 226.36h3.0M80.69 200.69h3.0M80.69 224.35h3.0M82.24 197.87h3.0M82.24 222.34h3.0M83.79 195.06h3.0M83.79 220.33h3.0M85.34 192.24h3.0M85.34 218.33h3.0M86.88 189.43h3.0M86.88 216.32h3.0M88.43 186.63h3.0M88.43 214.31h3.0M89.98 183.83h3.0M89.98 212.30h3.0M91.53 181.03h3.0M91.53 210.29h3.0M93.08 178.24h3.0M93.08 208.28h3.0M94.62 175.46h3.0M94.62 206.28h3.0M96.17 172.69h3.0M96.17 204.27h3.0M97.72 169.93h3.0M97.72 202.26h3.0M99.27 167.18h3.0M99.27 200.25h3.0M100.82 164.45h3.0M100.82 198.24h3.0M102.36 161.74h3.0M102.36 196.23h3.0M103.91 159.05h3.0M103.91 194.22h3.0M105.46 156.38h3.0M105.46 192.22h3.0M107.01 153.74h3.0M107.01 190.21h3.0M108.56 151.13h3.0M108.56 188.20h3.0M110.10 148.56h3.0M110.10 186.19h3.0M111.65 146.03h3.0M111.65 184.18h3.0M113.20 143.54h3.0M113.20 182.17h3.0M114.75 141.09h3.0M114.75 180.16h3.0M116.30 138.70h3.0M116.30 178.16h3.0M117.84 136.37h3.0M117.84 176.15h3.0M119.39 134.11h3.0M119.39 174.14h3.0M120.94 131.91h3.0M120.94 172.13h3.0M122.49 129.78h3.0M122.49 170.12h3.0M124.04 127.73h3.0M124.04 168.12h3.0M125.58 125.76h3.0M125.58 166.11h3.0M127.13 123.88h3.0M127.13 164.11h3.0M128.68 122.08h3.0M128.68 162.10h3.0M130.23 120.38h3.0M130.23 160.10h3.0M131.78 118.76h3.0M131.78 158.11h3.0M133.32 117.24h3.0M133.32 156.12h3.0M134.87 115.81h3.0M134.87 154.13h3.0M136.42 114.47h3.0M136.42 152.16h3.0M137.97 113.23h3.0M137.97 150.20h3.0M139.52 112.07h3.0M139.52 148.26h3.0M141.06 111.00h3.0M141.06 146.35h3.0M142.61 110.01h3.0M142.61 144.48h3.0M144.16 109.10h3.0M144.16 142.65h3.0M145.71 108.28h3.0M145.71 140.88h3.0M147.26 107.52h3.0M147.26 139.18h3.0M148.80 106.83h3.0M148.80 137.57h3.0M150.35 106.21h3.0M150.35 136.07h3.0M151.90 105.65h3.0M151.90 134.69h3.0M153.45 105.14h3.0M153.45 133.43h3.0M155.00 104.69h3.0M155.00 132.31h3.0M156.54 104.29h3.0M156.54 131.32h3.0M158.09 103.94h3.0M158.09 130.46h3.0M159.64 103.62h3.0M159.64 129.70h3.0M161.19 103.34h3.0M161.19 129.05h3.0M162.74 103.10h3.0M162.74 128.49h3.0M164.28 102.89h3.0M164.28 128.00h3.0M165.83 102.72h3.0M165.83 127.56h3.0M167.38 102.56h3.0M167.38 127.18h3.0M168.93 102.44h3.0M168.93 126.83h3.0M170.48 102.33h3.0M170.48 126.50h3.0M172.02 102.25h3.0M172.02 126.20h3.0M173.57 102.19h3.0M173.57 125.92h3.0M175.12 102.14h3.0M175.12 125.65h3.0M176.67 102.11h3.0M176.67 125.39h3.0M178.22 102.09h3.0M178.22 125.14h3.0M179.76 102.08h3.0M179.76 124.90h3.0M181.31 102.09h3.0M181.31 124.66h3.0M182.86 102.11h3.0M182.86 124.42h3.0M184.41 102.14h3.0M184.41 124.18h3.0M185.96 102.17h3.0M185.96 123.95h3.0M187.50 102.22h3.0M187.50 123.71h3.0M189.05 102.27h3.0M189.05 123.48h3.0M190.60 102.33h3.0M190.60 123.24h3.0M35.80 282.60h3.0M35.80 282.60h3.0M37.35 279.59h3.0M37.35 281.50h3.0M38.90 276.57h3.0M38.90 280.24h3.0M40.44 273.56h3.0M40.44 278.00h3.0M41.99 270.55h3.0M41.99 275.78h3.0M43.54 267.54h3.0M43.54 273.59h3.0M45.09 264.53h3.0M45.09 271.44h3.0M46.64 261.53h3.0M46.64 269.30h3.0M48.18 258.53h3.0M48.18 267.19h3.0M49.73 255.52h3.0M49.73 265.09h3.0M51.28 252.53h3.0M51.28 263.00h3.0M52.83 249.53h3.0M52.83 260.93h3.0M54.38 246.54h3.0M54.38 258.86h3.0M55.92 243.56h3.0M55.92 256.80h3.0M57.47 240.58h3.0M57.47 254.74h3.0M59.02 237.60h3.0M59.02 252.69h3.0M60.57 234.64h3.0M60.57 250.65h3.0M62.12 231.67h3.0M62.12 248.61h3.0M63.66 228.72h3.0M63.66 246.57h3.0M65.21 225.77h3.0M65.21 244.54h3.0M66.76 222.83h3.0M66.76 242.51h3.0M68.31 219.90h3.0M68.31 240.49h3.0M69.86 216.98h3.0M69.86 238.47h3.0M71.40 214.06h3.0M71.40 236.45h3.0M72.95 211.16h3.0M72.95 234.44h3.0M74.50 208.26h3.0M74.50 232.43h3.0M76.05 205.38h3.0M76.05 230.42h3.0M77.60 202.51h3.0M77.60 228.42h3.0M79.14 199.65h3.0M79.14 226.42h3.0M80.69 196.81h3.0M80.69 224.43h3.0M82.24 193.97h3.0M82.24 222.43h3.0M83.79 191.16h3.0M83.79 220.45h3.0M85.34 188.35h3.0M85.34 218.46h3.0M86.88 185.56h3.0M86.88 216.48h3.0M88.43 182.79h3.0M88.43 214.50h3.0M89.98 180.03h3.0M89.98 212.53h3.0M91.53 177.29h3.0M91.53 210.56h3.0M93.08 174.56h3.0M93.08 208.60h3.0M94.62 171.85h3.0M94.62 206.63h3.0M96.17 169.16h3.0M96.17 204.68h3.0M97.72 166.49h3.0M97.72 202.72h3.0M99.27 163.84h3.0M99.27 200.77h3.0M100.82 161.21h3.0M100.82 198.83h3.0M102.36 158.60h3.0M102.36 196.89h3.0M103.91 156.01h3.0M103.91 194.95h3.0M105.46 153.45h3.0M105.46 193.02h3.0M107.01 150.90h3.0M107.01 191.09h3.0M108.56 148.38h3.0M108.56 189.17h3.0M110.10 145.88h3.0M110.10 187.25h3.0M111.65 143.41h3.0M111.65 185.33h3.0M113.20 140.96h3.0M113.20 183.42h3.0M114.75 138.53h3.0M114.75 181.52h3.0M116.30 136.13h3.0M116.30 179.62h3.0M117.84 133.76h3.0M117.84 177.72h3.0M119.39 131.41h3.0M119.39 175.83h3.0M120.94 129.09h3.0M120.94 173.94h3.0M122.49 126.80h3.0M122.49 172.06h3.0M124.04 124.53h3.0M124.04 170.18h3.0M125.58 122.30h3.0M125.58 168.31h3.0M127.13 120.09h3.0M127.13 166.44h3.0M128.68 117.91h3.0M128.68 164.58h3.0M130.23 115.77h3.0M130.23 162.73h3.0M131.78 113.65h3.0M131.78 160.87h3.0M133.32 111.56h3.0M133.32 159.03h3.0M134.87 109.51h3.0M134.87 157.19h3.0M136.42 107.48h3.0M136.42 155.35h3.0M137.97 105.49h3.0M137.97 153.52h3.0M139.52 103.53h3.0M139.52 151.70h3.0M141.06 101.61h3.0M141.06 149.88h3.0M142.61 99.71h3.0M142.61 148.06h3.0M144.16 97.85h3.0M144.16 146.25h3.0M145.71 96.02h3.0M145.71 144.45h3.0M147.26 94.23h3.0M147.26 142.65h3.0M148.80 92.47h3.0M148.80 140.86h3.0M150.35 90.75h3.0M150.35 139.08h3.0M151.90 89.06h3.0M151.90 137.30h3.0M153.45 87.41h3.0M153.45 135.52h3.0M155.00 85.79h3.0M155.00 133.76h3.0M156.54 84.21h3.0M156.54 131.99h3.0M158.09 82.66h3.0M158.09 130.24h3.0M159.64 81.15h3.0M159.64 128.49h3.0M161.19 79.67h3.0M161.19 126.74h3.0M162.74 78.23h3.0M162.74 125.00h3.0M164.28 76.83h3.0M164.28 123.27h3.0M165.83 75.46h3.0M165.83 121.55h3.0M167.38 74.13h3.0M167.38 119.83h3.0M168.93 72.84h3.0M168.93 118.11h3.0M170.48 71.58h3.0M170.48 116.41h3.0M172.02 70.36h3.0M172.02 114.70h3.0M173.57 69.18h3.0M173.57 113.01h3.0M175.12 68.03h3.0M175.12 111.32h3.0M176.67 66.92h3.0M176.67 109.64h3.0M178.22 65.85h3.0M178.22 107.96h3.0M179.76 64.81h3.0M179.76 106.29h3.0M181.31 63.81h3.0M181.31 104.63h3.0M182.86 62.85h3.0M182.86 102.98h3.0M184.41 61.92h3.0M184.41 101.33h3.0M185.96 61.03h3.0M185.96 99.68h3.0M187.50 60.18h3.0M187.50 98.05h3.0M189.05 59.36h3.0M189.05 96.42h3.0M190.60 58.58h3.0M190.60 94.79h3.0" stroke="#1e1e1e" stroke-width="1.1" fill="none"/>
<g stroke="#000" stroke-width="2.3" fill="none" stroke-linejoin="round"><polyline points="37.30,282.60 38.07,281.41 38.85,280.23 39.62,279.06 40.40,277.92 41.17,276.83 41.94,275.80 42.72,274.85 43.49,274.00 44.27,273.25 45.04,272.60 45.81,272.04 46.59,271.57 47.36,271.18 48.14,270.85 48.91,270.58 49.68,270.35 50.46,270.15 51.23,269.99 52.01,269.86 52.78,269.74 53.55,269.64 54.33,269.56 55.10,269.48 55.88,269.42 56.65,269.36 57.42,269.31 58.20,269.27 58.97,269.23 59.75,269.19 60.52,269.16 61.29,269.13 62.07,269.10 62.84,269.08 63.62,269.05 64.39,269.03 65.16,269.01 65.94,268.99 66.71,268.97 67.49,268.95 68.26,268.94 69.03,268.92 69.81,268.90 70.58,268.89 71.36,268.87 72.13,268.86 72.90,268.84 73.68,268.82 74.45,268.81 75.23,268.79 76.00,268.78 76.77,268.76 77.55,268.75 78.32,268.73 79.10,268.72 79.87,268.70 80.64,268.69 81.42,268.67 82.19,268.66 82.97,268.64 83.74,268.63 84.51,268.61 85.29,268.60 86.06,268.58 86.84,268.57 87.61,268.55 88.38,268.53 89.16,268.52 89.93,268.50 90.71,268.48 91.48,268.47 92.25,268.45 93.03,268.43 93.80,268.42 94.58,268.40 95.35,268.38 96.12,268.36 96.90,268.34 97.67,268.33 98.45,268.31 99.22,268.29 99.99,268.27 100.77,268.25 101.54,268.23 102.32,268.21 103.09,268.19 103.86,268.17 104.64,268.15 105.41,268.13 106.19,268.11 106.96,268.09 107.73,268.07 108.51,268.05 109.28,268.03 110.06,268.01 110.83,267.99 111.60,267.96 112.38,267.94 113.15,267.92 113.93,267.90 114.70,267.87 115.47,267.85 116.25,267.83 117.02,267.80 117.80,267.78 118.57,267.76 119.34,267.73 120.12,267.71 120.89,267.68 121.67,267.66 122.44,267.64 123.21,267.61 123.99,267.58 124.76,267.56 125.54,267.53 126.31,267.51 127.08,267.48 127.86,267.46 128.63,267.43 129.41,267.40 130.18,267.37 130.95,267.35 131.73,267.32 132.50,267.29 133.28,267.26 134.05,267.24 134.82,267.21 135.60,267.18 136.37,267.15 137.15,267.12 137.92,267.09 138.69,267.06 139.47,267.03 140.24,267.00 141.02,266.97 141.79,266.94 142.56,266.91 143.34,266.88 144.11,266.85 144.89,266.82 145.66,266.79 146.43,266.76 147.21,266.73 147.98,266.69 148.76,266.66 149.53,266.63 150.30,266.60 151.08,266.56 151.85,266.53 152.63,266.50 153.40,266.46 154.17,266.43 154.95,266.40 155.72,266.36 156.50,266.33 157.27,266.29 158.04,266.26 158.82,266.22 159.59,266.19 160.37,266.15 161.14,266.12 161.91,266.08 162.69,266.04 163.46,266.01 164.24,265.97 165.01,265.93 165.78,265.90 166.56,265.86 167.33,265.82 168.11,265.78 168.88,265.75 169.65,265.71 170.43,265.67 171.20,265.63 171.98,265.59 172.75,265.55 173.52,265.51 174.30,265.47 175.07,265.43 175.85,265.39 176.62,265.35 177.39,265.31 178.17,265.27 178.94,265.23 179.72,265.19 180.49,265.15 181.26,265.11 182.04,265.07 182.81,265.03 183.59,264.98 184.36,264.94 185.13,264.90 185.91,264.86 186.68,264.81 187.46,264.77 188.23,264.73 189.00,264.68 189.78,264.64 190.55,264.59 191.33,264.55 192.10,264.51"/><polyline points="37.30,282.60 38.07,281.44 38.85,280.27 39.62,279.11 40.40,277.94 41.17,276.78 41.94,275.61 42.72,274.45 43.49,273.29 44.27,272.12 45.04,270.96 45.81,269.79 46.59,268.63 47.36,267.47 48.14,266.30 48.91,265.14 49.68,263.98 50.46,262.82 51.23,261.66 52.01,260.50 52.78,259.34 53.55,258.19 54.33,257.03 55.10,255.88 55.88,254.74 56.65,253.60 57.42,252.46 58.20,251.32 58.97,250.20 59.75,249.08 60.52,247.96 61.29,246.86 62.07,245.76 62.84,244.68 63.62,243.60 64.39,242.54 65.16,241.50 65.94,240.47 66.71,239.45 67.49,238.46 68.26,237.48 69.03,236.52 69.81,235.59 70.58,234.68 71.36,233.79 72.13,232.92 72.90,232.09 73.68,231.27 74.45,230.49 75.23,229.73 76.00,229.01 76.77,228.31 77.55,227.64 78.32,226.99 79.10,226.38 79.87,225.80 80.64,225.24 81.42,224.71 82.19,224.21 82.97,223.74 83.74,223.29 84.51,222.87 85.29,222.47 86.06,222.09 86.84,221.74 87.61,221.41 88.38,221.10 89.16,220.81 89.93,220.54 90.71,220.29 91.48,220.05 92.25,219.83 93.03,219.62 93.80,219.43 94.58,219.26 95.35,219.09 96.12,218.94 96.90,218.80 97.67,218.67 98.45,218.55 99.22,218.44 99.99,218.33 100.77,218.24 101.54,218.15 102.32,218.07 103.09,218.00 103.86,217.93 104.64,217.87 105.41,217.81 106.19,217.76 106.96,217.72 107.73,217.67 108.51,217.63 109.28,217.60 110.06,217.57 110.83,217.54 111.60,217.52 112.38,217.49 113.15,217.47 113.93,217.46 114.70,217.44 115.47,217.43 116.25,217.42 117.02,217.41 117.80,217.40 118.57,217.39 119.34,217.39 120.12,217.38 120.89,217.38 121.67,217.38 122.44,217.37 123.21,217.37 123.99,217.37 124.76,217.37 125.54,217.38 126.31,217.38 127.08,217.38 127.86,217.38 128.63,217.39 129.41,217.39 130.18,217.39 130.95,217.40 131.73,217.40 132.50,217.41 133.28,217.41 134.05,217.42 134.82,217.42 135.60,217.43 136.37,217.43 137.15,217.43 137.92,217.44 138.69,217.44 139.47,217.45 140.24,217.45 141.02,217.46 141.79,217.46 142.56,217.46 143.34,217.47 144.11,217.47 144.89,217.47 145.66,217.47 146.43,217.48 147.21,217.48 147.98,217.48 148.76,217.48 149.53,217.48 150.30,217.48 151.08,217.48 151.85,217.48 152.63,217.48 153.40,217.48 154.17,217.48 154.95,217.48 155.72,217.47 156.50,217.47 157.27,217.47 158.04,217.46 158.82,217.46 159.59,217.45 160.37,217.45 161.14,217.44 161.91,217.44 162.69,217.43 163.46,217.42 164.24,217.42 165.01,217.41 165.78,217.40 166.56,217.39 167.33,217.38 168.11,217.37 168.88,217.36 169.65,217.35 170.43,217.34 171.20,217.33 171.98,217.32 172.75,217.30 173.52,217.29 174.30,217.28 175.07,217.26 175.85,217.25 176.62,217.23 177.39,217.22 178.17,217.20 178.94,217.18 179.72,217.17 180.49,217.15 181.26,217.13 182.04,217.11 182.81,217.09 183.59,217.07 184.36,217.05 185.13,217.03 185.91,217.01 186.68,216.98 187.46,216.96 188.23,216.94 189.00,216.91 189.78,216.89 190.55,216.86 191.33,216.84 192.10,216.81"/><polyline points="37.30,282.60 38.07,281.40 38.85,280.19 39.62,278.99 40.40,277.79 41.17,276.59 41.94,275.38 42.72,274.18 43.49,272.98 44.27,271.77 45.04,270.57 45.81,269.37 46.59,268.16 47.36,266.96 48.14,265.76 48.91,264.56 49.68,263.35 50.46,262.15 51.23,260.95 52.01,259.74 52.78,258.54 53.55,257.34 54.33,256.14 55.10,254.93 55.88,253.73 56.65,252.53 57.42,251.33 58.20,250.12 58.97,248.92 59.75,247.72 60.52,246.52 61.29,245.32 62.07,244.12 62.84,242.92 63.62,241.72 64.39,240.52 65.16,239.32 65.94,238.12 66.71,236.92 67.49,235.72 68.26,234.52 69.03,233.33 69.81,232.13 70.58,230.94 71.36,229.75 72.13,228.56 72.90,227.37 73.68,226.18 74.45,224.99 75.23,223.81 76.00,222.63 76.77,221.45 77.55,220.27 78.32,219.09 79.10,217.92 79.87,216.75 80.64,215.59 81.42,214.43 82.19,213.27 82.97,212.12 83.74,210.97 84.51,209.83 85.29,208.69 86.06,207.56 86.84,206.44 87.61,205.32 88.38,204.21 89.16,203.11 89.93,202.01 90.71,200.92 91.48,199.85 92.25,198.78 93.03,197.72 93.80,196.67 94.58,195.63 95.35,194.61 96.12,193.59 96.90,192.59 97.67,191.60 98.45,190.62 99.22,189.66 99.99,188.71 100.77,187.78 101.54,186.86 102.32,185.96 103.09,185.07 103.86,184.20 104.64,183.35 105.41,182.51 106.19,181.70 106.96,180.90 107.73,180.11 108.51,179.35 109.28,178.60 110.06,177.88 110.83,177.17 111.60,176.48 112.38,175.81 113.15,175.16 113.93,174.53 114.70,173.92 115.47,173.33 116.25,172.76 117.02,172.20 117.80,171.67 118.57,171.15 119.34,170.66 120.12,170.18 120.89,169.72 121.67,169.27 122.44,168.85 123.21,168.44 123.99,168.04 124.76,167.67 125.54,167.31 126.31,166.97 127.08,166.64 127.86,166.32 128.63,166.02 129.41,165.74 130.18,165.47 130.95,165.21 131.73,164.97 132.50,164.74 133.28,164.52 134.05,164.31 134.82,164.11 135.60,163.93 136.37,163.75 137.15,163.59 137.92,163.43 138.69,163.28 139.47,163.15 140.24,163.02 141.02,162.90 141.79,162.79 142.56,162.69 143.34,162.59 144.11,162.50 144.89,162.42 145.66,162.34 146.43,162.27 147.21,162.21 147.98,162.15 148.76,162.10 149.53,162.05 150.30,162.01 151.08,161.97 151.85,161.94 152.63,161.91 153.40,161.89 154.17,161.87 154.95,161.85 155.72,161.84 156.50,161.82 157.27,161.82 158.04,161.81 158.82,161.81 159.59,161.81 160.37,161.82 161.14,161.82 161.91,161.83 162.69,161.84 163.46,161.86 164.24,161.87 165.01,161.89 165.78,161.91 166.56,161.93 167.33,161.95 168.11,161.97 168.88,161.99 169.65,162.02 170.43,162.05 171.20,162.07 171.98,162.10 172.75,162.13 173.52,162.16 174.30,162.19 175.07,162.22 175.85,162.26 176.62,162.29 177.39,162.32 178.17,162.36 178.94,162.39 179.72,162.43 180.49,162.46 181.26,162.50 182.04,162.53 182.81,162.57 183.59,162.61 184.36,162.64 185.13,162.68 185.91,162.72 186.68,162.75 187.46,162.79 188.23,162.83 189.00,162.86 189.78,162.90 190.55,162.94 191.33,162.97 192.10,163.01"/><polyline points="37.30,282.60 38.07,281.42 38.85,280.25 39.62,279.07 40.40,277.90 41.17,276.72 41.94,275.55 42.72,274.37 43.49,273.20 44.27,272.02 45.04,270.85 45.81,269.67 46.59,268.50 47.36,267.32 48.14,266.15 48.91,264.97 49.68,263.79 50.46,262.62 51.23,261.44 52.01,260.27 52.78,259.09 53.55,257.92 54.33,256.74 55.10,255.57 55.88,254.39 56.65,253.22 57.42,252.04 58.20,250.87 58.97,249.69 59.75,248.52 60.52,247.34 61.29,246.16 62.07,244.99 62.84,243.81 63.62,242.64 64.39,241.46 65.16,240.29 65.94,239.11 66.71,237.94 67.49,236.76 68.26,235.59 69.03,234.41 69.81,233.24 70.58,232.06 71.36,230.89 72.13,229.71 72.90,228.53 73.68,227.36 74.45,226.18 75.23,225.01 76.00,223.83 76.77,222.66 77.55,221.48 78.32,220.31 79.10,219.13 79.87,217.96 80.64,216.78 81.42,215.61 82.19,214.43 82.97,213.26 83.74,212.08 84.51,210.91 85.29,209.73 86.06,208.56 86.84,207.38 87.61,206.21 88.38,205.03 89.16,203.86 89.93,202.68 90.71,201.51 91.48,200.33 92.25,199.16 93.03,197.98 93.80,196.81 94.58,195.63 95.35,194.46 96.12,193.29 96.90,192.11 97.67,190.94 98.45,189.77 99.22,188.59 99.99,187.42 100.77,186.25 101.54,185.08 102.32,183.91 103.09,182.74 103.86,181.57 104.64,180.40 105.41,179.23 106.19,178.06 106.96,176.90 107.73,175.73 108.51,174.57 109.28,173.40 110.06,172.24 110.83,171.08 111.60,169.92 112.38,168.77 113.15,167.61 113.93,166.46 114.70,165.31 115.47,164.17 116.25,163.02 117.02,161.88 117.80,160.75 118.57,159.61 119.34,158.49 120.12,157.36 120.89,156.24 121.67,155.13 122.44,154.02 123.21,152.92 123.99,151.82 124.76,150.73 125.54,149.65 126.31,148.58 127.08,147.52 127.86,146.46 128.63,145.42 129.41,144.38 130.18,143.36 130.95,142.35 131.73,141.35 132.50,140.36 133.28,139.39 134.05,138.43 134.82,137.49 135.60,136.56 136.37,135.65 137.15,134.76 137.92,133.88 138.69,133.03 139.47,132.19 140.24,131.37 141.02,130.56 141.79,129.78 142.56,129.02 143.34,128.29 144.11,127.57 144.89,126.87 145.66,126.20 146.43,125.54 147.21,124.91 147.98,124.30 148.76,123.71 149.53,123.14 150.30,122.60 151.08,122.07 151.85,121.57 152.63,121.09 153.40,120.62 154.17,120.18 154.95,119.75 155.72,119.35 156.50,118.96 157.27,118.59 158.04,118.24 158.82,117.90 159.59,117.59 160.37,117.28 161.14,116.99 161.91,116.72 162.69,116.46 163.46,116.21 164.24,115.98 165.01,115.76 165.78,115.55 166.56,115.35 167.33,115.16 168.11,114.98 168.88,114.81 169.65,114.65 170.43,114.50 171.20,114.36 171.98,114.22 172.75,114.09 173.52,113.97 174.30,113.86 175.07,113.75 175.85,113.65 176.62,113.56 177.39,113.47 178.17,113.38 178.94,113.30 179.72,113.23 180.49,113.15 181.26,113.09 182.04,113.02 182.81,112.96 183.59,112.91 184.36,112.85 185.13,112.80 185.91,112.76 186.68,112.71 187.46,112.67 188.23,112.63 189.00,112.59 189.78,112.56 190.55,112.53 191.33,112.50 192.10,112.47"/><polyline points="37.30,282.60 38.07,281.39 38.85,280.17 39.62,278.96 40.40,277.74 41.17,276.53 41.94,275.32 42.72,274.10 43.49,272.89 44.27,271.67 45.04,270.46 45.81,269.25 46.59,268.03 47.36,266.82 48.14,265.61 48.91,264.39 49.68,263.18 50.46,261.97 51.23,260.75 52.01,259.54 52.78,258.33 53.55,257.11 54.33,255.90 55.10,254.69 55.88,253.48 56.65,252.26 57.42,251.05 58.20,249.84 58.97,248.63 59.75,247.42 60.52,246.21 61.29,245.00 62.07,243.79 62.84,242.58 63.62,241.37 64.39,240.16 65.16,238.95 65.94,237.74 66.71,236.53 67.49,235.32 68.26,234.12 69.03,232.91 69.81,231.70 70.58,230.50 71.36,229.30 72.13,228.09 72.90,226.89 73.68,225.68 74.45,224.48 75.23,223.28 76.00,222.08 76.77,220.88 77.55,219.68 78.32,218.49 79.10,217.29 79.87,216.09 80.64,214.90 81.42,213.70 82.19,212.51 82.97,211.32 83.74,210.13 84.51,208.94 85.29,207.75 86.06,206.56 86.84,205.38 87.61,204.19 88.38,203.01 89.16,201.83 89.93,200.64 90.71,199.47 91.48,198.29 92.25,197.11 93.03,195.94 93.80,194.76 94.58,193.59 95.35,192.42 96.12,191.26 96.90,190.09 97.67,188.93 98.45,187.76 99.22,186.60 99.99,185.45 100.77,184.29 101.54,183.14 102.32,181.98 103.09,180.83 103.86,179.69 104.64,178.54 105.41,177.40 106.19,176.26 106.96,175.12 107.73,173.98 108.51,172.85 109.28,171.72 110.06,170.59 110.83,169.47 111.60,168.34 112.38,167.22 113.15,166.11 113.93,164.99 114.70,163.88 115.47,162.77 116.25,161.67 117.02,160.57 117.80,159.47 118.57,158.37 119.34,157.28 120.12,156.19 120.89,155.10 121.67,154.02 122.44,152.94 123.21,151.87 123.99,150.80 124.76,149.73 125.54,148.66 126.31,147.60 127.08,146.55 127.86,145.49 128.63,144.44 129.41,143.40 130.18,142.36 130.95,141.32 131.73,140.29 132.50,139.26 133.28,138.24 134.05,137.22 134.82,136.20 135.60,135.19 136.37,134.18 137.15,133.18 137.92,132.18 138.69,131.19 139.47,130.20 140.24,129.21 141.02,128.24 141.79,127.26 142.56,126.29 143.34,125.33 144.11,124.37 144.89,123.41 145.66,122.46 146.43,121.52 147.21,120.58 147.98,119.64 148.76,118.71 149.53,117.79 150.30,116.87 151.08,115.96 151.85,115.05 152.63,114.15 153.40,113.25 154.17,112.36 154.95,111.47 155.72,110.59 156.50,109.72 157.27,108.85 158.04,107.99 158.82,107.13 159.59,106.28 160.37,105.43 161.14,104.59 161.91,103.76 162.69,102.93 163.46,102.11 164.24,101.29 165.01,100.48 165.78,99.68 166.56,98.88 167.33,98.08 168.11,97.30 168.88,96.52 169.65,95.75 170.43,94.98 171.20,94.22 171.98,93.46 172.75,92.71 173.52,91.97 174.30,91.24 175.07,90.51 175.85,89.78 176.62,89.07 177.39,88.36 178.17,87.65 178.94,86.95 179.72,86.26 180.49,85.58 181.26,84.90 182.04,84.23 182.81,83.56 183.59,82.90 184.36,82.25 185.13,81.61 185.91,80.97 186.68,80.33 187.46,79.71 188.23,79.09 189.00,78.47 189.78,77.87 190.55,77.27 191.33,76.67 192.10,76.09"/><line x1="37.30" y1="282.60" x2="192.10" y2="282.60"/></g>

<line x1="33.3" y1="282.60" x2="37.3" y2="282.60" stroke="#727272" stroke-width="1"/><line x1="33.3" y1="227.42" x2="37.3" y2="227.42" stroke="#727272" stroke-width="1"/><line x1="33.3" y1="172.24" x2="37.3" y2="172.24" stroke="#727272" stroke-width="1"/><line x1="33.3" y1="117.06" x2="37.3" y2="117.06" stroke="#727272" stroke-width="1"/><line x1="33.3" y1="61.88" x2="37.3" y2="61.88" stroke="#727272" stroke-width="1"/><line x1="33.3" y1="6.70" x2="37.3" y2="6.70" stroke="#727272" stroke-width="1"/><line x1="34.9" y1="255.01" x2="37.3" y2="255.01" stroke="#727272" stroke-width="1"/><line x1="34.9" y1="199.83" x2="37.3" y2="199.83" stroke="#727272" stroke-width="1"/><line x1="34.9" y1="144.65" x2="37.3" y2="144.65" stroke="#727272" stroke-width="1"/><line x1="34.9" y1="89.47" x2="37.3" y2="89.47" stroke="#727272" stroke-width="1"/><line x1="34.9" y1="34.29" x2="37.3" y2="34.29" stroke="#727272" stroke-width="1"/>

<line x1="37.30" y1="282.6" x2="37.30" y2="286.8" stroke="#727272" stroke-width="1"/><line x1="68.26" y1="282.6" x2="68.26" y2="286.8" stroke="#727272" stroke-width="1"/><line x1="99.22" y1="282.6" x2="99.22" y2="286.8" stroke="#727272" stroke-width="1"/><line x1="130.18" y1="282.6" x2="130.18" y2="286.8" stroke="#727272" stroke-width="1"/><line x1="161.14" y1="282.6" x2="161.14" y2="286.8" stroke="#727272" stroke-width="1"/><line x1="192.10" y1="282.6" x2="192.10" y2="286.8" stroke="#727272" stroke-width="1"/><line x1="52.78" y1="282.6" x2="52.78" y2="285.2" stroke="#727272" stroke-width="1"/><line x1="83.74" y1="282.6" x2="83.74" y2="285.2" stroke="#727272" stroke-width="1"/><line x1="114.70" y1="282.6" x2="114.70" y2="285.2" stroke="#727272" stroke-width="1"/><line x1="145.66" y1="282.6" x2="145.66" y2="285.2" stroke="#727272" stroke-width="1"/><line x1="176.62" y1="282.6" x2="176.62" y2="285.2" stroke="#727272" stroke-width="1"/>

<text transform="translate(32.80,286.80) scale(0.85,1)" font-size="12.5" font-weight="bold" text-anchor="end" fill="#000" >0</text>

<text transform="translate(32.80,231.62) scale(0.85,1)" font-size="12.5" font-weight="bold" text-anchor="end" fill="#000" >50</text>

<text transform="translate(32.80,176.44) scale(0.85,1)" font-size="12.5" font-weight="bold" text-anchor="end" fill="#000" >100</text>

<text transform="translate(32.80,121.26) scale(0.85,1)" font-size="12.5" font-weight="bold" text-anchor="end" fill="#000" >150</text>

<text transform="translate(32.80,66.08) scale(0.85,1)" font-size="12.5" font-weight="bold" text-anchor="end" fill="#000" >200</text>

<text transform="translate(32.80,10.90) scale(0.85,1)" font-size="12.5" font-weight="bold" text-anchor="end" fill="#000" >250</text>

<text transform="translate(37.30,300.00) scale(0.85,1)" font-size="12.5" font-weight="bold" text-anchor="middle" fill="#000" >0</text>

<text transform="translate(68.26,300.00) scale(0.85,1)" font-size="12.5" font-weight="bold" text-anchor="middle" fill="#000" >2</text>

<text transform="translate(99.22,300.00) scale(0.85,1)" font-size="12.5" font-weight="bold" text-anchor="middle" fill="#000" >4</text>

<text transform="translate(130.18,300.00) scale(0.85,1)" font-size="12.5" font-weight="bold" text-anchor="middle" fill="#000" >6</text>

<text transform="translate(161.14,300.00) scale(0.85,1)" font-size="12.5" font-weight="bold" text-anchor="middle" fill="#000" >8</text>

<text transform="translate(192.10,300.00) scale(0.85,1)" font-size="12.5" font-weight="bold" text-anchor="middle" fill="#000" >10</text>

<text transform="translate(114.90,318.30) scale(0.91,1)" font-size="12.5" font-weight="bold" text-anchor="middle" fill="#000" >Drain voltage (V)</text>

<text transform="translate(9.60,155.30) rotate(-90) scale(1,0.78)" font-size="14.2" font-weight="bold" text-anchor="middle" fill="#000" >Drain current (mA/mm)</text>

<text transform="translate(40.50,19.60)" font-size="11" font-weight="normal" text-anchor="start" fill="#000" >(a)</text>

<text transform="translate(56.00,19.90) scale(0.93,1)" font-size="12.0" font-weight="bold" text-anchor="start" fill="#000" >w/o u-GaN</text>

<text transform="translate(39.40,36.60) scale(0.86,1)" font-size="13.6" font-weight="bold" text-anchor="start" fill="#000" >V</text>

<text transform="translate(47.20,42.00) scale(0.77,1)" font-size="10.8" font-weight="bold" text-anchor="start" fill="#000" >G</text>

<text transform="translate(57.00,36.60) scale(0.85,1)" font-size="13.6" font-weight="bold" text-anchor="start" fill="#000" >= 0-6 V, step = 1 V</text>

<rect x="238.1" y="6.7" width="154.9" height="275.9" fill="none" stroke="#727272" stroke-width="1.5"/>

<path d="M238.10 282.60L239.65 279.55L241.20 276.49L242.75 273.44L244.30 270.39L245.84 267.33L247.39 264.32L248.94 262.26L250.49 261.97L252.04 261.93L253.59 261.91L255.14 261.88L256.69 261.86L258.24 261.83L259.79 261.81L261.33 261.78L262.88 261.75L264.43 261.72L265.98 261.69L267.53 261.66L269.08 261.63L270.63 261.59L272.18 261.56L273.73 261.52L275.28 261.49L276.82 261.45L278.37 261.41L279.92 261.37L281.47 261.33L283.02 261.29L284.57 261.25L286.12 261.21L287.67 261.16L289.22 261.12L290.77 261.07L292.31 261.03L293.86 260.98L295.41 260.93L296.96 260.88L298.51 260.83L300.06 260.78L301.61 260.73L303.16 260.67L304.71 260.62L306.26 260.57L307.81 260.51L309.35 260.45L310.90 260.39L312.45 260.34L314.00 260.28L315.55 260.22L317.10 260.15L318.65 260.09L320.20 260.03L321.75 259.96L323.30 259.90L324.84 259.83L326.39 259.77L327.94 259.70L329.49 259.63L331.04 259.56L332.59 259.49L334.14 259.42L335.69 259.34L337.24 259.27L338.78 259.19L340.33 259.12L341.88 259.04L343.43 258.97L344.98 258.89L346.53 258.81L348.08 258.73L349.63 258.65L351.18 258.56L352.73 258.48L354.27 258.40L355.82 258.31L357.37 258.23L358.92 258.14L360.47 258.05L362.02 257.96L363.57 257.87L365.12 257.78L366.67 257.69L368.22 257.60L369.76 257.51L371.31 257.41L372.86 257.32L374.41 257.22L375.96 257.12L377.51 257.02L379.06 256.93L380.61 256.83L382.16 256.72L383.71 256.62L385.25 256.52L386.80 256.42L388.35 256.31L389.90 256.21L391.45 256.10L393.00 255.99L393.00 264.08L391.45 264.11L389.90 264.14L388.35 264.17L386.80 264.20L385.25 264.23L383.71 264.26L382.16 264.30L380.61 264.33L379.06 264.36L377.51 264.39L375.96 264.43L374.41 264.46L372.86 264.50L371.31 264.53L369.76 264.57L368.22 264.61L366.67 264.64L365.12 264.68L363.57 264.72L362.02 264.76L360.47 264.79L358.92 264.83L357.37 264.87L355.82 264.91L354.27 264.95L352.73 264.99L351.18 265.03L349.63 265.08L348.08 265.12L346.53 265.16L344.98 265.20L343.43 265.25L341.88 265.29L340.33 265.34L338.78 265.38L337.24 265.43L335.69 265.47L334.14 265.52L332.59 265.57L331.04 265.61L329.49 265.66L327.94 265.71L326.39 265.76L324.84 265.81L323.30 265.86L321.75 265.91L320.20 265.96L318.65 266.01L317.10 266.06L315.55 266.11L314.00 266.17L312.45 266.22L310.90 266.27L309.35 266.33L307.81 266.38L306.26 266.43L304.71 266.49L303.16 266.55L301.61 266.60L300.06 266.66L298.51 266.72L296.96 266.77L295.41 266.83L293.86 266.89L292.31 266.95L290.77 267.01L289.22 267.07L287.67 267.13L286.12 267.19L284.57 267.25L283.02 267.31L281.47 267.37L279.92 267.44L278.37 267.50L276.82 267.56L275.28 267.63L273.73 267.69L272.18 267.76L270.63 267.82L269.08 267.89L267.53 267.95L265.98 268.02L264.43 268.09L262.88 268.16L261.33 268.22L259.79 268.29L258.24 268.36L256.69 268.43L255.14 268.50L253.59 268.57L252.04 268.64L250.49 268.71L248.94 268.78L247.39 268.86L245.84 269.19L244.30 271.46L242.75 274.24L241.20 277.03L239.65 279.81L238.10 282.60ZM238.10 282.60L239.65 279.60L241.20 276.60L242.75 273.61L244.30 270.61L245.84 267.61L247.39 264.61L248.94 261.61L250.49 258.62L252.04 255.62L253.59 252.62L255.14 249.62L256.69 246.62L258.24 243.62L259.79 240.63L261.33 237.63L262.88 234.63L264.43 231.64L265.98 228.65L267.53 225.67L269.08 222.72L270.63 219.81L272.18 216.98L273.73 214.28L275.28 211.78L276.82 209.58L278.37 207.75L279.92 206.31L281.47 205.24L283.02 204.50L284.57 203.99L286.12 203.65L287.67 203.42L289.22 203.26L290.77 203.15L292.31 203.07L293.86 203.01L295.41 202.96L296.96 202.92L298.51 202.89L300.06 202.86L301.61 202.83L303.16 202.81L304.71 202.78L306.26 202.76L307.81 202.74L309.35 202.71L310.90 202.69L312.45 202.67L314.00 202.65L315.55 202.63L317.10 202.61L318.65 202.59L320.20 202.57L321.75 202.55L323.30 202.53L324.84 202.51L326.39 202.49L327.94 202.47L329.49 202.45L331.04 202.43L332.59 202.41L334.14 202.39L335.69 202.37L337.24 202.35L338.78 202.34L340.33 202.32L341.88 202.30L343.43 202.28L344.98 202.26L346.53 202.25L348.08 202.23L349.63 202.21L351.18 202.19L352.73 202.18L354.27 202.16L355.82 202.14L357.37 202.13L358.92 202.11L360.47 202.10L362.02 202.08L363.57 202.06L365.12 202.05L366.67 202.03L368.22 202.02L369.76 202.00L371.31 201.99L372.86 201.97L374.41 201.96L375.96 201.94L377.51 201.93L379.06 201.91L380.61 201.90L382.16 201.89L383.71 201.87L385.25 201.86L386.80 201.85L388.35 201.83L389.90 201.82L391.45 201.81L393.00 201.79L393.00 209.18L391.45 209.19L389.90 209.19L388.35 209.20L386.80 209.21L385.25 209.22L383.71 209.23L382.16 209.23L380.61 209.24L379.06 209.24L377.51 209.25L375.96 209.26L374.41 209.26L372.86 209.26L371.31 209.27L369.76 209.27L368.22 209.27L366.67 209.28L365.12 209.28L363.57 209.28L362.02 209.28L360.47 209.28L358.92 209.28L357.37 209.28L355.82 209.28L354.27 209.28L352.73 209.28L351.18 209.28L349.63 209.28L348.08 209.28L346.53 209.28L344.98 209.27L343.43 209.27L341.88 209.27L340.33 209.26L338.78 209.26L337.24 209.25L335.69 209.25L334.14 209.24L332.59 209.24L331.04 209.23L329.49 209.23L327.94 209.22L326.39 209.22L324.84 209.21L323.30 209.21L321.75 209.20L320.20 209.19L318.65 209.19L317.10 209.19L315.55 209.18L314.00 209.18L312.45 209.18L310.90 209.18L309.35 209.18L307.81 209.19L306.26 209.20L304.71 209.22L303.16 209.24L301.61 209.27L300.06 209.31L298.51 209.36L296.96 209.43L295.41 209.52L293.86 209.64L292.31 209.80L290.77 209.99L289.22 210.25L287.67 210.57L286.12 210.99L284.57 211.52L283.02 212.18L281.47 213.01L279.92 214.02L278.37 215.25L276.82 216.69L275.28 218.37L273.73 220.27L272.18 222.37L270.63 224.65L269.08 227.08L267.53 229.62L265.98 232.25L264.43 234.94L262.88 237.68L261.33 240.45L259.79 243.23L258.24 246.03L256.69 248.84L255.14 251.65L253.59 254.46L252.04 257.27L250.49 260.09L248.94 262.90L247.39 265.71L245.84 268.53L244.30 271.34L242.75 274.16L241.20 276.97L239.65 279.79L238.10 282.60ZM238.10 282.60L239.65 279.57L241.20 276.53L242.75 273.50L244.30 270.46L245.84 267.43L247.39 264.39L248.94 261.36L250.49 258.32L252.04 255.29L253.59 252.25L255.14 249.21L256.69 246.17L258.24 243.13L259.79 240.09L261.33 237.05L262.88 234.01L264.43 230.97L265.98 227.94L267.53 224.92L269.08 221.90L270.63 218.88L272.18 215.85L273.73 212.81L275.28 209.77L276.82 206.75L278.37 203.74L279.92 200.75L281.47 197.80L283.02 194.88L284.57 192.01L286.12 189.15L287.67 186.28L289.22 183.41L290.77 180.56L292.31 177.74L293.86 174.99L295.41 172.30L296.96 169.71L298.51 167.23L300.06 164.88L301.61 162.64L303.16 160.48L304.71 158.44L306.26 156.52L307.81 154.77L309.35 153.16L310.90 151.66L312.45 150.26L314.00 148.95L315.55 147.72L317.10 146.54L318.65 145.45L320.20 144.46L321.75 143.57L323.30 142.71L324.84 141.91L326.39 141.21L327.94 140.65L329.49 140.22L331.04 139.85L332.59 139.51L334.14 139.22L335.69 138.96L337.24 138.75L338.78 138.58L340.33 138.43L341.88 138.29L343.43 138.17L344.98 138.06L346.53 137.98L348.08 137.94L349.63 137.94L351.18 137.99L352.73 138.07L354.27 138.18L355.82 138.32L357.37 138.48L358.92 138.65L360.47 138.83L362.02 139.01L363.57 139.18L365.12 139.33L366.67 139.48L368.22 139.63L369.76 139.79L371.31 139.95L372.86 140.11L374.41 140.27L375.96 140.44L377.51 140.60L379.06 140.78L380.61 140.95L382.16 141.13L383.71 141.31L385.25 141.49L386.80 141.67L388.35 141.86L389.90 142.05L391.45 142.25L393.00 142.44L393.00 160.38L391.45 160.33L389.90 160.28L388.35 160.22L386.80 160.15L385.25 160.08L383.71 159.99L382.16 159.91L380.61 159.81L379.06 159.71L377.51 159.61L375.96 159.50L374.41 159.39L372.86 159.27L371.31 159.15L369.76 159.03L368.22 158.90L366.67 158.77L365.12 158.64L363.57 158.50L362.02 158.34L360.47 158.15L358.92 157.96L357.37 157.75L355.82 157.55L354.27 157.34L352.73 157.14L351.18 156.95L349.63 156.78L348.08 156.62L346.53 156.45L344.98 156.27L343.43 156.10L341.88 155.93L340.33 155.78L338.78 155.66L337.24 155.56L335.69 155.51L334.14 155.51L332.59 155.57L331.04 155.71L329.49 155.90L327.94 156.14L326.39 156.42L324.84 156.73L323.30 157.07L321.75 157.52L320.20 158.18L318.65 159.01L317.10 159.96L315.55 161.01L314.00 162.12L312.45 163.43L310.90 165.01L309.35 166.78L307.81 168.61L306.26 170.40L304.71 172.14L303.16 173.90L301.61 175.70L300.06 177.54L298.51 179.45L296.96 181.44L295.41 183.51L293.86 185.67L292.31 187.89L290.77 190.18L289.22 192.53L287.67 194.93L286.12 197.36L284.57 199.83L283.02 202.35L281.47 204.95L279.92 207.61L278.37 210.32L276.82 213.07L275.28 215.84L273.73 218.63L272.18 221.42L270.63 224.20L269.08 226.96L267.53 229.71L265.98 232.47L264.43 235.24L262.88 238.02L261.33 240.80L259.79 243.59L258.24 246.37L256.69 249.16L255.14 251.95L253.59 254.73L252.04 257.52L250.49 260.30L248.94 263.08L247.39 265.87L245.84 268.66L244.30 271.44L242.75 274.23L241.20 277.02L239.65 279.81L238.10 282.60ZM238.10 282.60L239.65 279.57L241.20 276.53L242.75 273.50L244.30 270.46L245.84 267.43L247.39 264.39L248.94 261.36L250.49 258.32L252.04 255.29L253.59 252.25L255.14 249.21L256.69 246.17L258.24 243.13L259.79 240.09L261.33 237.05L262.88 234.01L264.43 230.97L265.98 227.94L267.53 224.92L269.08 221.90L270.63 218.89L272.18 215.88L273.73 212.87L275.28 209.87L276.82 206.87L278.37 203.88L279.92 200.90L281.47 197.92L283.02 194.96L284.57 192.01L286.12 189.06L287.67 186.11L289.22 183.15L290.77 180.20L292.31 177.26L293.86 174.34L295.41 171.46L296.96 168.60L298.51 165.80L300.06 163.04L301.61 160.33L303.16 157.65L304.71 155.00L306.26 152.38L307.81 149.79L309.35 147.23L310.90 144.70L312.45 142.20L314.00 139.73L315.55 137.29L317.10 134.87L318.65 132.47L320.20 130.09L321.75 127.75L323.30 125.45L324.84 123.20L326.39 121.02L327.94 118.90L329.49 116.81L331.04 114.74L332.59 112.71L334.14 110.74L335.69 108.87L337.24 107.14L338.78 105.56L340.33 104.14L341.88 102.81L343.43 101.56L344.98 100.38L346.53 99.24L348.08 98.13L349.63 97.02L351.18 95.91L352.73 94.76L354.27 93.60L355.82 92.47L357.37 91.40L358.92 90.44L360.47 89.61L362.02 88.84L363.57 88.12L365.12 87.44L366.67 86.80L368.22 86.20L369.76 85.66L371.31 85.15L372.86 84.69L374.41 84.26L375.96 83.86L377.51 83.49L379.06 83.15L380.61 82.85L382.16 82.57L383.71 82.32L385.25 82.08L386.80 81.86L388.35 81.66L389.90 81.48L391.45 81.32L393.00 81.19L393.00 104.18L391.45 103.90L389.90 103.63L388.35 103.37L386.80 103.13L385.25 102.91L383.71 102.71L382.16 102.53L380.61 102.36L379.06 102.18L377.51 102.01L375.96 101.87L374.41 101.76L372.86 101.71L371.31 101.71L369.76 101.76L368.22 101.84L366.67 101.96L365.12 102.11L363.57 102.29L362.02 102.49L360.47 102.71L358.92 102.99L357.37 103.45L355.82 104.08L354.27 104.82L352.73 105.64L351.18 106.48L349.63 107.42L348.08 108.51L346.53 109.73L344.98 111.08L343.43 112.62L341.88 114.38L340.33 116.29L338.78 118.28L337.24 120.28L335.69 122.30L334.14 124.40L332.59 126.56L331.04 128.75L329.49 130.95L327.94 133.15L326.39 135.36L324.84 137.59L323.30 139.83L321.75 142.09L320.20 144.35L318.65 146.60L317.10 148.85L315.55 151.09L314.00 153.29L312.45 155.46L310.90 157.62L309.35 159.76L307.81 161.91L306.26 164.08L304.71 166.27L303.16 168.51L301.61 170.80L300.06 173.16L298.51 175.59L296.96 178.09L295.41 180.65L293.86 183.26L292.31 185.90L290.77 188.57L289.22 191.27L287.67 193.97L286.12 196.67L284.57 199.37L283.02 202.07L281.47 204.79L279.92 207.54L278.37 210.30L276.82 213.07L275.28 215.84L273.73 218.63L272.18 221.41L270.63 224.19L269.08 226.96L267.53 229.73L265.98 232.50L264.43 235.28L262.88 238.05L261.33 240.83L259.79 243.61L258.24 246.39L256.69 249.17L255.14 251.95L253.59 254.73L252.04 257.52L250.49 260.30L248.94 263.08L247.39 265.87L245.84 268.66L244.30 271.44L242.75 274.23L241.20 277.02L239.65 279.81L238.10 282.60ZM238.10 282.60L239.65 279.45L241.20 276.31L242.75 273.17L244.30 270.04L245.84 266.91L247.39 263.78L248.94 260.66L250.49 257.55L252.04 254.44L253.59 251.33L255.14 248.23L256.69 245.13L258.24 242.03L259.79 238.93L261.33 235.84L262.88 232.76L264.43 229.68L265.98 226.62L267.53 223.56L269.08 220.52L270.63 217.49L272.18 214.46L273.73 211.44L275.28 208.43L276.82 205.43L278.37 202.44L279.92 199.47L281.47 196.51L283.02 193.56L284.57 190.63L286.12 187.73L287.67 184.85L289.22 181.98L290.77 179.14L292.31 176.30L293.86 173.47L295.41 170.64L296.96 167.81L298.51 164.97L300.06 162.12L301.61 159.24L303.16 156.31L304.71 153.36L306.26 150.41L307.81 147.50L309.35 144.64L310.90 141.86L312.45 139.19L314.00 136.64L315.55 134.18L317.10 131.79L318.65 129.46L320.20 127.17L321.75 124.90L323.30 122.62L324.84 120.33L326.39 117.99L327.94 115.60L329.49 113.17L331.04 110.71L332.59 108.26L334.14 105.83L335.69 103.45L337.24 101.14L338.78 98.93L340.33 96.82L341.88 94.77L343.43 92.77L344.98 90.80L346.53 88.84L348.08 86.85L349.63 84.84L351.18 82.83L352.73 80.82L354.27 78.83L355.82 76.83L357.37 74.79L358.92 72.74L360.47 70.72L362.02 68.78L363.57 66.93L365.12 65.23L366.67 63.60L368.22 62.01L369.76 60.46L371.31 58.99L372.86 57.59L374.41 56.27L375.96 55.06L377.51 53.96L379.06 52.94L380.61 51.98L382.16 51.08L383.71 50.23L385.25 49.41L386.80 48.64L388.35 47.90L389.90 47.19L391.45 46.50L393.00 45.88L393.00 59.49L391.45 60.00L389.90 60.56L388.35 61.12L386.80 61.69L385.25 62.28L383.71 62.91L382.16 63.58L380.61 64.30L379.06 65.08L377.51 65.93L375.96 66.89L374.41 67.99L372.86 69.21L371.31 70.55L369.76 71.99L368.22 73.50L366.67 75.09L365.12 76.72L363.57 78.45L362.02 80.36L360.47 82.42L358.92 84.58L357.37 86.80L355.82 89.06L354.27 91.30L352.73 93.62L351.18 96.02L349.63 98.41L348.08 100.73L346.53 103.00L344.98 105.23L343.43 107.44L341.88 109.65L340.33 111.86L338.78 114.09L337.24 116.34L335.69 118.59L334.14 120.85L332.59 123.12L331.04 125.39L329.49 127.67L327.94 129.95L326.39 132.23L324.84 134.51L323.30 136.78L321.75 139.05L320.20 141.33L318.65 143.61L317.10 145.91L315.55 148.23L314.00 150.57L312.45 152.94L310.90 155.34L309.35 157.75L307.81 160.19L306.26 162.65L304.71 165.13L303.16 167.63L301.61 170.15L300.06 172.70L298.51 175.28L296.96 177.88L295.41 180.52L293.86 183.17L292.31 185.84L290.77 188.53L289.22 191.24L287.67 193.94L286.12 196.66L284.57 199.37L283.02 202.09L281.47 204.83L279.92 207.57L278.37 210.33L276.82 213.10L275.28 215.87L273.73 218.64L272.18 221.42L270.63 224.19L269.08 226.96L267.53 229.73L265.98 232.50L264.43 235.28L262.88 238.05L261.33 240.83L259.79 243.61L258.24 246.39L256.69 249.17L255.14 251.95L253.59 254.73L252.04 257.52L250.49 260.30L248.94 263.08L247.39 265.87L245.84 268.66L244.30 271.44L242.75 274.23L241.20 277.02L239.65 279.81L238.10 282.60Z" fill="#c0c0ff" stroke="none"/>
<path d="M238.10 282.60V282.60M239.65 279.55V279.81M241.20 276.49V277.03M242.75 273.44V274.24M244.30 270.39V271.46M245.84 267.33V269.19M247.39 264.32V268.86M248.94 262.26V268.78M250.49 261.97V268.71M252.04 261.93V268.64M253.59 261.91V268.57M255.14 261.88V268.50M256.69 261.86V268.43M258.24 261.83V268.36M259.79 261.81V268.29M261.33 261.78V268.22M262.88 261.75V268.16M264.43 261.72V268.09M265.98 261.69V268.02M267.53 261.66V267.95M269.08 261.63V267.89M270.63 261.59V267.82M272.18 261.56V267.76M273.73 261.52V267.69M275.28 261.49V267.63M276.82 261.45V267.56M278.37 261.41V267.50M279.92 261.37V267.44M281.47 261.33V267.37M283.02 261.29V267.31M284.57 261.25V267.25M286.12 261.21V267.19M287.67 261.16V267.13M289.22 261.12V267.07M290.77 261.07V267.01M292.31 261.03V266.95M293.86 260.98V266.89M295.41 260.93V266.83M296.96 260.88V266.77M298.51 260.83V266.72M300.06 260.78V266.66M301.61 260.73V266.60M303.16 260.67V266.55M304.71 260.62V266.49M306.26 260.57V266.43M307.81 260.51V266.38M309.35 260.45V266.33M310.90 260.39V266.27M312.45 260.34V266.22M314.00 260.28V266.17M315.55 260.22V266.11M317.10 260.15V266.06M318.65 260.09V266.01M320.20 260.03V265.96M321.75 259.96V265.91M323.30 259.90V265.86M324.84 259.83V265.81M326.39 259.77V265.76M327.94 259.70V265.71M329.49 259.63V265.66M331.04 259.56V265.61M332.59 259.49V265.57M334.14 259.42V265.52M335.69 259.34V265.47M337.24 259.27V265.43M338.78 259.19V265.38M340.33 259.12V265.34M341.88 259.04V265.29M343.43 258.97V265.25M344.98 258.89V265.20M346.53 258.81V265.16M348.08 258.73V265.12M349.63 258.65V265.08M351.18 258.56V265.03M352.73 258.48V264.99M354.27 258.40V264.95M355.82 258.31V264.91M357.37 258.23V264.87M358.92 258.14V264.83M360.47 258.05V264.79M362.02 257.96V264.76M363.57 257.87V264.72M365.12 257.78V264.68M366.67 257.69V264.64M368.22 257.60V264.61M369.76 257.51V264.57M371.31 257.41V264.53M372.86 257.32V264.50M374.41 257.22V264.46M375.96 257.12V264.43M377.51 257.02V264.39M379.06 256.93V264.36M380.61 256.83V264.33M382.16 256.72V264.30M383.71 256.62V264.26M385.25 256.52V264.23M386.80 256.42V264.20M388.35 256.31V264.17M389.90 256.21V264.14M391.45 256.10V264.11M393.00 255.99V264.08M238.10 282.60V282.60M239.65 279.60V279.79M241.20 276.60V276.97M242.75 273.61V274.16M244.30 270.61V271.34M245.84 267.61V268.53M247.39 264.61V265.71M248.94 261.61V262.90M250.49 258.62V260.09M252.04 255.62V257.27M253.59 252.62V254.46M255.14 249.62V251.65M256.69 246.62V248.84M258.24 243.62V246.03M259.79 240.63V243.23M261.33 237.63V240.45M262.88 234.63V237.68M264.43 231.64V234.94M265.98 228.65V232.25M267.53 225.67V229.62M269.08 222.72V227.08M270.63 219.81V224.65M272.18 216.98V222.37M273.73 214.28V220.27M275.28 211.78V218.37M276.82 209.58V216.69M278.37 207.75V215.25M279.92 206.31V214.02M281.47 205.24V213.01M283.02 204.50V212.18M284.57 203.99V211.52M286.12 203.65V210.99M287.67 203.42V210.57M289.22 203.26V210.25M290.77 203.15V209.99M292.31 203.07V209.80M293.86 203.01V209.64M295.41 202.96V209.52M296.96 202.92V209.43M298.51 202.89V209.36M300.06 202.86V209.31M301.61 202.83V209.27M303.16 202.81V209.24M304.71 202.78V209.22M306.26 202.76V209.20M307.81 202.74V209.19M309.35 202.71V209.18M310.90 202.69V209.18M312.45 202.67V209.18M314.00 202.65V209.18M315.55 202.63V209.18M317.10 202.61V209.19M318.65 202.59V209.19M320.20 202.57V209.19M321.75 202.55V209.20M323.30 202.53V209.21M324.84 202.51V209.21M326.39 202.49V209.22M327.94 202.47V209.22M329.49 202.45V209.23M331.04 202.43V209.23M332.59 202.41V209.24M334.14 202.39V209.24M335.69 202.37V209.25M337.24 202.35V209.25M338.78 202.34V209.26M340.33 202.32V209.26M341.88 202.30V209.27M343.43 202.28V209.27M344.98 202.26V209.27M346.53 202.25V209.28M348.08 202.23V209.28M349.63 202.21V209.28M351.18 202.19V209.28M352.73 202.18V209.28M354.27 202.16V209.28M355.82 202.14V209.28M357.37 202.13V209.28M358.92 202.11V209.28M360.47 202.10V209.28M362.02 202.08V209.28M363.57 202.06V209.28M365.12 202.05V209.28M366.67 202.03V209.28M368.22 202.02V209.27M369.76 202.00V209.27M371.31 201.99V209.27M372.86 201.97V209.26M374.41 201.96V209.26M375.96 201.94V209.26M377.51 201.93V209.25M379.06 201.91V209.24M380.61 201.90V209.24M382.16 201.89V209.23M383.71 201.87V209.23M385.25 201.86V209.22M386.80 201.85V209.21M388.35 201.83V209.20M389.90 201.82V209.19M391.45 201.81V209.19M393.00 201.79V209.18M238.10 282.60V282.60M239.65 279.57V279.81M241.20 276.53V277.02M242.75 273.50V274.23M244.30 270.46V271.44M245.84 267.43V268.66M247.39 264.39V265.87M248.94 261.36V263.08M250.49 258.32V260.30M252.04 255.29V257.52M253.59 252.25V254.73M255.14 249.21V251.95M256.69 246.17V249.16M258.24 243.13V246.37M259.79 240.09V243.59M261.33 237.05V240.80M262.88 234.01V238.02M264.43 230.97V235.24M265.98 227.94V232.47M267.53 224.92V229.71M269.08 221.90V226.96M270.63 218.88V224.20M272.18 215.85V221.42M273.73 212.81V218.63M275.28 209.77V215.84M276.82 206.75V213.07M278.37 203.74V210.32M279.92 200.75V207.61M281.47 197.80V204.95M283.02 194.88V202.35M284.57 192.01V199.83M286.12 189.15V197.36M287.67 186.28V194.93M289.22 183.41V192.53M290.77 180.56V190.18M292.31 177.74V187.89M293.86 174.99V185.67M295.41 172.30V183.51M296.96 169.71V181.44M298.51 167.23V179.45M300.06 164.88V177.54M301.61 162.64V175.70M303.16 160.48V173.90M304.71 158.44V172.14M306.26 156.52V170.40M307.81 154.77V168.61M309.35 153.16V166.78M310.90 151.66V165.01M312.45 150.26V163.43M314.00 148.95V162.12M315.55 147.72V161.01M317.10 146.54V159.96M318.65 145.45V159.01M320.20 144.46V158.18M321.75 143.57V157.52M323.30 142.71V157.07M324.84 141.91V156.73M326.39 141.21V156.42M327.94 140.65V156.14M329.49 140.22V155.90M331.04 139.85V155.71M332.59 139.51V155.57M334.14 139.22V155.51M335.69 138.96V155.51M337.24 138.75V155.56M338.78 138.58V155.66M340.33 138.43V155.78M341.88 138.29V155.93M343.43 138.17V156.10M344.98 138.06V156.27M346.53 137.98V156.45M348.08 137.94V156.62M349.63 137.94V156.78M351.18 137.99V156.95M352.73 138.07V157.14M354.27 138.18V157.34M355.82 138.32V157.55M357.37 138.48V157.75M358.92 138.65V157.96M360.47 138.83V158.15M362.02 139.01V158.34M363.57 139.18V158.50M365.12 139.33V158.64M366.67 139.48V158.77M368.22 139.63V158.90M369.76 139.79V159.03M371.31 139.95V159.15M372.86 140.11V159.27M374.41 140.27V159.39M375.96 140.44V159.50M377.51 140.60V159.61M379.06 140.78V159.71M380.61 140.95V159.81M382.16 141.13V159.91M383.71 141.31V159.99M385.25 141.49V160.08M386.80 141.67V160.15M388.35 141.86V160.22M389.90 142.05V160.28M391.45 142.25V160.33M393.00 142.44V160.38M238.10 282.60V282.60M239.65 279.57V279.81M241.20 276.53V277.02M242.75 273.50V274.23M244.30 270.46V271.44M245.84 267.43V268.66M247.39 264.39V265.87M248.94 261.36V263.08M250.49 258.32V260.30M252.04 255.29V257.52M253.59 252.25V254.73M255.14 249.21V251.95M256.69 246.17V249.17M258.24 243.13V246.39M259.79 240.09V243.61M261.33 237.05V240.83M262.88 234.01V238.05M264.43 230.97V235.28M265.98 227.94V232.50M267.53 224.92V229.73M269.08 221.90V226.96M270.63 218.89V224.19M272.18 215.88V221.41M273.73 212.87V218.63M275.28 209.87V215.84M276.82 206.87V213.07M278.37 203.88V210.30M279.92 200.90V207.54M281.47 197.92V204.79M283.02 194.96V202.07M284.57 192.01V199.37M286.12 189.06V196.67M287.67 186.11V193.97M289.22 183.15V191.27M290.77 180.20V188.57M292.31 177.26V185.90M293.86 174.34V183.26M295.41 171.46V180.65M296.96 168.60V178.09M298.51 165.80V175.59M300.06 163.04V173.16M301.61 160.33V170.80M303.16 157.65V168.51M304.71 155.00V166.27M306.26 152.38V164.08M307.81 149.79V161.91M309.35 147.23V159.76M310.90 144.70V157.62M312.45 142.20V155.46M314.00 139.73V153.29M315.55 137.29V151.09M317.10 134.87V148.85M318.65 132.47V146.60M320.20 130.09V144.35M321.75 127.75V142.09M323.30 125.45V139.83M324.84 123.20V137.59M326.39 121.02V135.36M327.94 118.90V133.15M329.49 116.81V130.95M331.04 114.74V128.75M332.59 112.71V126.56M334.14 110.74V124.40M335.69 108.87V122.30M337.24 107.14V120.28M338.78 105.56V118.28M340.33 104.14V116.29M341.88 102.81V114.38M343.43 101.56V112.62M344.98 100.38V111.08M346.53 99.24V109.73M348.08 98.13V108.51M349.63 97.02V107.42M351.18 95.91V106.48M352.73 94.76V105.64M354.27 93.60V104.82M355.82 92.47V104.08M357.37 91.40V103.45M358.92 90.44V102.99M360.47 89.61V102.71M362.02 88.84V102.49M363.57 88.12V102.29M365.12 87.44V102.11M366.67 86.80V101.96M368.22 86.20V101.84M369.76 85.66V101.76M371.31 85.15V101.71M372.86 84.69V101.71M374.41 84.26V101.76M375.96 83.86V101.87M377.51 83.49V102.01M379.06 83.15V102.18M380.61 82.85V102.36M382.16 82.57V102.53M383.71 82.32V102.71M385.25 82.08V102.91M386.80 81.86V103.13M388.35 81.66V103.37M389.90 81.48V103.63M391.45 81.32V103.90M393.00 81.19V104.18M238.10 282.60V282.60M239.65 279.45V279.81M241.20 276.31V277.02M242.75 273.17V274.23M244.30 270.04V271.44M245.84 266.91V268.66M247.39 263.78V265.87M248.94 260.66V263.08M250.49 257.55V260.30M252.04 254.44V257.52M253.59 251.33V254.73M255.14 248.23V251.95M256.69 245.13V249.17M258.24 242.03V246.39M259.79 238.93V243.61M261.33 235.84V240.83M262.88 232.76V238.05M264.43 229.68V235.28M265.98 226.62V232.50M267.53 223.56V229.73M269.08 220.52V226.96M270.63 217.49V224.19M272.18 214.46V221.42M273.73 211.44V218.64M275.28 208.43V215.87M276.82 205.43V213.10M278.37 202.44V210.33M279.92 199.47V207.57M281.47 196.51V204.83M283.02 193.56V202.09M284.57 190.63V199.37M286.12 187.73V196.66M287.67 184.85V193.94M289.22 181.98V191.24M290.77 179.14V188.53M292.31 176.30V185.84M293.86 173.47V183.17M295.41 170.64V180.52M296.96 167.81V177.88M298.51 164.97V175.28M300.06 162.12V172.70M301.61 159.24V170.15M303.16 156.31V167.63M304.71 153.36V165.13M306.26 150.41V162.65M307.81 147.50V160.19M309.35 144.64V157.75M310.90 141.86V155.34M312.45 139.19V152.94M314.00 136.64V150.57M315.55 134.18V148.23M317.10 131.79V145.91M318.65 129.46V143.61M320.20 127.17V141.33M321.75 124.90V139.05M323.30 122.62V136.78M324.84 120.33V134.51M326.39 117.99V132.23M327.94 115.60V129.95M329.49 113.17V127.67M331.04 110.71V125.39M332.59 108.26V123.12M334.14 105.83V120.85M335.69 103.45V118.59M337.24 101.14V116.34M338.78 98.93V114.09M340.33 96.82V111.86M341.88 94.77V109.65M343.43 92.77V107.44M344.98 90.80V105.23M346.53 88.84V103.00M348.08 86.85V100.73M349.63 84.84V98.41M351.18 82.83V96.02M352.73 80.82V93.62M354.27 78.83V91.30M355.82 76.83V89.06M357.37 74.79V86.80M358.92 72.74V84.58M360.47 70.72V82.42M362.02 68.78V80.36M363.57 66.93V78.45M365.12 65.23V76.72M366.67 63.60V75.09M368.22 62.01V73.50M369.76 60.46V71.99M371.31 58.99V70.55M372.86 57.59V69.21M374.41 56.27V67.99M375.96 55.06V66.89M377.51 53.96V65.93M379.06 52.94V65.08M380.61 51.98V64.30M382.16 51.08V63.58M383.71 50.23V62.91M385.25 49.41V62.28M386.80 48.64V61.69M388.35 47.90V61.12M389.90 47.19V60.56M391.45 46.50V60.00M393.00 45.88V59.49" stroke="#7c7cff" stroke-width="0.7" fill="none"/>
<path d="M236.10 282.60h4.0M236.10 282.60h4.0M237.65 279.55h4.0M237.65 279.81h4.0M239.20 276.49h4.0M239.20 277.03h4.0M240.75 273.44h4.0M240.75 274.24h4.0M242.30 270.39h4.0M242.30 271.46h4.0M243.84 267.33h4.0M243.84 269.19h4.0M245.39 264.32h4.0M245.39 268.86h4.0M246.94 262.26h4.0M246.94 268.78h4.0M248.49 261.97h4.0M248.49 268.71h4.0M250.04 261.93h4.0M250.04 268.64h4.0M251.59 261.91h4.0M251.59 268.57h4.0M253.14 261.88h4.0M253.14 268.50h4.0M254.69 261.86h4.0M254.69 268.43h4.0M256.24 261.83h4.0M256.24 268.36h4.0M257.79 261.81h4.0M257.79 268.29h4.0M259.33 261.78h4.0M259.33 268.22h4.0M260.88 261.75h4.0M260.88 268.16h4.0M262.43 261.72h4.0M262.43 268.09h4.0M263.98 261.69h4.0M263.98 268.02h4.0M265.53 261.66h4.0M265.53 267.95h4.0M267.08 261.63h4.0M267.08 267.89h4.0M268.63 261.59h4.0M268.63 267.82h4.0M270.18 261.56h4.0M270.18 267.76h4.0M271.73 261.52h4.0M271.73 267.69h4.0M273.28 261.49h4.0M273.28 267.63h4.0M274.82 261.45h4.0M274.82 267.56h4.0M276.37 261.41h4.0M276.37 267.50h4.0M277.92 261.37h4.0M277.92 267.44h4.0M279.47 261.33h4.0M279.47 267.37h4.0M281.02 261.29h4.0M281.02 267.31h4.0M282.57 261.25h4.0M282.57 267.25h4.0M284.12 261.21h4.0M284.12 267.19h4.0M285.67 261.16h4.0M285.67 267.13h4.0M287.22 261.12h4.0M287.22 267.07h4.0M288.77 261.07h4.0M288.77 267.01h4.0M290.31 261.03h4.0M290.31 266.95h4.0M291.86 260.98h4.0M291.86 266.89h4.0M293.41 260.93h4.0M293.41 266.83h4.0M294.96 260.88h4.0M294.96 266.77h4.0M296.51 260.83h4.0M296.51 266.72h4.0M298.06 260.78h4.0M298.06 266.66h4.0M299.61 260.73h4.0M299.61 266.60h4.0M301.16 260.67h4.0M301.16 266.55h4.0M302.71 260.62h4.0M302.71 266.49h4.0M304.26 260.57h4.0M304.26 266.43h4.0M305.81 260.51h4.0M305.81 266.38h4.0M307.35 260.45h4.0M307.35 266.33h4.0M308.90 260.39h4.0M308.90 266.27h4.0M310.45 260.34h4.0M310.45 266.22h4.0M312.00 260.28h4.0M312.00 266.17h4.0M313.55 260.22h4.0M313.55 266.11h4.0M315.10 260.15h4.0M315.10 266.06h4.0M316.65 260.09h4.0M316.65 266.01h4.0M318.20 260.03h4.0M318.20 265.96h4.0M319.75 259.96h4.0M319.75 265.91h4.0M321.30 259.90h4.0M321.30 265.86h4.0M322.84 259.83h4.0M322.84 265.81h4.0M324.39 259.77h4.0M324.39 265.76h4.0M325.94 259.70h4.0M325.94 265.71h4.0M327.49 259.63h4.0M327.49 265.66h4.0M329.04 259.56h4.0M329.04 265.61h4.0M330.59 259.49h4.0M330.59 265.57h4.0M332.14 259.42h4.0M332.14 265.52h4.0M333.69 259.34h4.0M333.69 265.47h4.0M335.24 259.27h4.0M335.24 265.43h4.0M336.78 259.19h4.0M336.78 265.38h4.0M338.33 259.12h4.0M338.33 265.34h4.0M339.88 259.04h4.0M339.88 265.29h4.0M341.43 258.97h4.0M341.43 265.25h4.0M342.98 258.89h4.0M342.98 265.20h4.0M344.53 258.81h4.0M344.53 265.16h4.0M346.08 258.73h4.0M346.08 265.12h4.0M347.63 258.65h4.0M347.63 265.08h4.0M349.18 258.56h4.0M349.18 265.03h4.0M350.73 258.48h4.0M350.73 264.99h4.0M352.27 258.40h4.0M352.27 264.95h4.0M353.82 258.31h4.0M353.82 264.91h4.0M355.37 258.23h4.0M355.37 264.87h4.0M356.92 258.14h4.0M356.92 264.83h4.0M358.47 258.05h4.0M358.47 264.79h4.0M360.02 257.96h4.0M360.02 264.76h4.0M361.57 257.87h4.0M361.57 264.72h4.0M363.12 257.78h4.0M363.12 264.68h4.0M364.67 257.69h4.0M364.67 264.64h4.0M366.22 257.60h4.0M366.22 264.61h4.0M367.76 257.51h4.0M367.76 264.57h4.0M369.31 257.41h4.0M369.31 264.53h4.0M370.86 257.32h4.0M370.86 264.50h4.0M372.41 257.22h4.0M372.41 264.46h4.0M373.96 257.12h4.0M373.96 264.43h4.0M375.51 257.02h4.0M375.51 264.39h4.0M377.06 256.93h4.0M377.06 264.36h4.0M378.61 256.83h4.0M378.61 264.33h4.0M380.16 256.72h4.0M380.16 264.30h4.0M381.71 256.62h4.0M381.71 264.26h4.0M383.25 256.52h4.0M383.25 264.23h4.0M384.80 256.42h4.0M384.80 264.20h4.0M386.35 256.31h4.0M386.35 264.17h4.0M387.90 256.21h4.0M387.90 264.14h4.0M389.45 256.10h4.0M389.45 264.11h4.0M391.00 255.99h4.0M391.00 264.08h4.0M236.10 282.60h4.0M236.10 282.60h4.0M237.65 279.60h4.0M237.65 279.79h4.0M239.20 276.60h4.0M239.20 276.97h4.0M240.75 273.61h4.0M240.75 274.16h4.0M242.30 270.61h4.0M242.30 271.34h4.0M243.84 267.61h4.0M243.84 268.53h4.0M245.39 264.61h4.0M245.39 265.71h4.0M246.94 261.61h4.0M246.94 262.90h4.0M248.49 258.62h4.0M248.49 260.09h4.0M250.04 255.62h4.0M250.04 257.27h4.0M251.59 252.62h4.0M251.59 254.46h4.0M253.14 249.62h4.0M253.14 251.65h4.0M254.69 246.62h4.0M254.69 248.84h4.0M256.24 243.62h4.0M256.24 246.03h4.0M257.79 240.63h4.0M257.79 243.23h4.0M259.33 237.63h4.0M259.33 240.45h4.0M260.88 234.63h4.0M260.88 237.68h4.0M262.43 231.64h4.0M262.43 234.94h4.0M263.98 228.65h4.0M263.98 232.25h4.0M265.53 225.67h4.0M265.53 229.62h4.0M267.08 222.72h4.0M267.08 227.08h4.0M268.63 219.81h4.0M268.63 224.65h4.0M270.18 216.98h4.0M270.18 222.37h4.0M271.73 214.28h4.0M271.73 220.27h4.0M273.28 211.78h4.0M273.28 218.37h4.0M274.82 209.58h4.0M274.82 216.69h4.0M276.37 207.75h4.0M276.37 215.25h4.0M277.92 206.31h4.0M277.92 214.02h4.0M279.47 205.24h4.0M279.47 213.01h4.0M281.02 204.50h4.0M281.02 212.18h4.0M282.57 203.99h4.0M282.57 211.52h4.0M284.12 203.65h4.0M284.12 210.99h4.0M285.67 203.42h4.0M285.67 210.57h4.0M287.22 203.26h4.0M287.22 210.25h4.0M288.77 203.15h4.0M288.77 209.99h4.0M290.31 203.07h4.0M290.31 209.80h4.0M291.86 203.01h4.0M291.86 209.64h4.0M293.41 202.96h4.0M293.41 209.52h4.0M294.96 202.92h4.0M294.96 209.43h4.0M296.51 202.89h4.0M296.51 209.36h4.0M298.06 202.86h4.0M298.06 209.31h4.0M299.61 202.83h4.0M299.61 209.27h4.0M301.16 202.81h4.0M301.16 209.24h4.0M302.71 202.78h4.0M302.71 209.22h4.0M304.26 202.76h4.0M304.26 209.20h4.0M305.81 202.74h4.0M305.81 209.19h4.0M307.35 202.71h4.0M307.35 209.18h4.0M308.90 202.69h4.0M308.90 209.18h4.0M310.45 202.67h4.0M310.45 209.18h4.0M312.00 202.65h4.0M312.00 209.18h4.0M313.55 202.63h4.0M313.55 209.18h4.0M315.10 202.61h4.0M315.10 209.19h4.0M316.65 202.59h4.0M316.65 209.19h4.0M318.20 202.57h4.0M318.20 209.19h4.0M319.75 202.55h4.0M319.75 209.20h4.0M321.30 202.53h4.0M321.30 209.21h4.0M322.84 202.51h4.0M322.84 209.21h4.0M324.39 202.49h4.0M324.39 209.22h4.0M325.94 202.47h4.0M325.94 209.22h4.0M327.49 202.45h4.0M327.49 209.23h4.0M329.04 202.43h4.0M329.04 209.23h4.0M330.59 202.41h4.0M330.59 209.24h4.0M332.14 202.39h4.0M332.14 209.24h4.0M333.69 202.37h4.0M333.69 209.25h4.0M335.24 202.35h4.0M335.24 209.25h4.0M336.78 202.34h4.0M336.78 209.26h4.0M338.33 202.32h4.0M338.33 209.26h4.0M339.88 202.30h4.0M339.88 209.27h4.0M341.43 202.28h4.0M341.43 209.27h4.0M342.98 202.26h4.0M342.98 209.27h4.0M344.53 202.25h4.0M344.53 209.28h4.0M346.08 202.23h4.0M346.08 209.28h4.0M347.63 202.21h4.0M347.63 209.28h4.0M349.18 202.19h4.0M349.18 209.28h4.0M350.73 202.18h4.0M350.73 209.28h4.0M352.27 202.16h4.0M352.27 209.28h4.0M353.82 202.14h4.0M353.82 209.28h4.0M355.37 202.13h4.0M355.37 209.28h4.0M356.92 202.11h4.0M356.92 209.28h4.0M358.47 202.10h4.0M358.47 209.28h4.0M360.02 202.08h4.0M360.02 209.28h4.0M361.57 202.06h4.0M361.57 209.28h4.0M363.12 202.05h4.0M363.12 209.28h4.0M364.67 202.03h4.0M364.67 209.28h4.0M366.22 202.02h4.0M366.22 209.27h4.0M367.76 202.00h4.0M367.76 209.27h4.0M369.31 201.99h4.0M369.31 209.27h4.0M370.86 201.97h4.0M370.86 209.26h4.0M372.41 201.96h4.0M372.41 209.26h4.0M373.96 201.94h4.0M373.96 209.26h4.0M375.51 201.93h4.0M375.51 209.25h4.0M377.06 201.91h4.0M377.06 209.24h4.0M378.61 201.90h4.0M378.61 209.24h4.0M380.16 201.89h4.0M380.16 209.23h4.0M381.71 201.87h4.0M381.71 209.23h4.0M383.25 201.86h4.0M383.25 209.22h4.0M384.80 201.85h4.0M384.80 209.21h4.0M386.35 201.83h4.0M386.35 209.20h4.0M387.90 201.82h4.0M387.90 209.19h4.0M389.45 201.81h4.0M389.45 209.19h4.0M391.00 201.79h4.0M391.00 209.18h4.0M236.10 282.60h4.0M236.10 282.60h4.0M237.65 279.57h4.0M237.65 279.81h4.0M239.20 276.53h4.0M239.20 277.02h4.0M240.75 273.50h4.0M240.75 274.23h4.0M242.30 270.46h4.0M242.30 271.44h4.0M243.84 267.43h4.0M243.84 268.66h4.0M245.39 264.39h4.0M245.39 265.87h4.0M246.94 261.36h4.0M246.94 263.08h4.0M248.49 258.32h4.0M248.49 260.30h4.0M250.04 255.29h4.0M250.04 257.52h4.0M251.59 252.25h4.0M251.59 254.73h4.0M253.14 249.21h4.0M253.14 251.95h4.0M254.69 246.17h4.0M254.69 249.16h4.0M256.24 243.13h4.0M256.24 246.37h4.0M257.79 240.09h4.0M257.79 243.59h4.0M259.33 237.05h4.0M259.33 240.80h4.0M260.88 234.01h4.0M260.88 238.02h4.0M262.43 230.97h4.0M262.43 235.24h4.0M263.98 227.94h4.0M263.98 232.47h4.0M265.53 224.92h4.0M265.53 229.71h4.0M267.08 221.90h4.0M267.08 226.96h4.0M268.63 218.88h4.0M268.63 224.20h4.0M270.18 215.85h4.0M270.18 221.42h4.0M271.73 212.81h4.0M271.73 218.63h4.0M273.28 209.77h4.0M273.28 215.84h4.0M274.82 206.75h4.0M274.82 213.07h4.0M276.37 203.74h4.0M276.37 210.32h4.0M277.92 200.75h4.0M277.92 207.61h4.0M279.47 197.80h4.0M279.47 204.95h4.0M281.02 194.88h4.0M281.02 202.35h4.0M282.57 192.01h4.0M282.57 199.83h4.0M284.12 189.15h4.0M284.12 197.36h4.0M285.67 186.28h4.0M285.67 194.93h4.0M287.22 183.41h4.0M287.22 192.53h4.0M288.77 180.56h4.0M288.77 190.18h4.0M290.31 177.74h4.0M290.31 187.89h4.0M291.86 174.99h4.0M291.86 185.67h4.0M293.41 172.30h4.0M293.41 183.51h4.0M294.96 169.71h4.0M294.96 181.44h4.0M296.51 167.23h4.0M296.51 179.45h4.0M298.06 164.88h4.0M298.06 177.54h4.0M299.61 162.64h4.0M299.61 175.70h4.0M301.16 160.48h4.0M301.16 173.90h4.0M302.71 158.44h4.0M302.71 172.14h4.0M304.26 156.52h4.0M304.26 170.40h4.0M305.81 154.77h4.0M305.81 168.61h4.0M307.35 153.16h4.0M307.35 166.78h4.0M308.90 151.66h4.0M308.90 165.01h4.0M310.45 150.26h4.0M310.45 163.43h4.0M312.00 148.95h4.0M312.00 162.12h4.0M313.55 147.72h4.0M313.55 161.01h4.0M315.10 146.54h4.0M315.10 159.96h4.0M316.65 145.45h4.0M316.65 159.01h4.0M318.20 144.46h4.0M318.20 158.18h4.0M319.75 143.57h4.0M319.75 157.52h4.0M321.30 142.71h4.0M321.30 157.07h4.0M322.84 141.91h4.0M322.84 156.73h4.0M324.39 141.21h4.0M324.39 156.42h4.0M325.94 140.65h4.0M325.94 156.14h4.0M327.49 140.22h4.0M327.49 155.90h4.0M329.04 139.85h4.0M329.04 155.71h4.0M330.59 139.51h4.0M330.59 155.57h4.0M332.14 139.22h4.0M332.14 155.51h4.0M333.69 138.96h4.0M333.69 155.51h4.0M335.24 138.75h4.0M335.24 155.56h4.0M336.78 138.58h4.0M336.78 155.66h4.0M338.33 138.43h4.0M338.33 155.78h4.0M339.88 138.29h4.0M339.88 155.93h4.0M341.43 138.17h4.0M341.43 156.10h4.0M342.98 138.06h4.0M342.98 156.27h4.0M344.53 137.98h4.0M344.53 156.45h4.0M346.08 137.94h4.0M346.08 156.62h4.0M347.63 137.94h4.0M347.63 156.78h4.0M349.18 137.99h4.0M349.18 156.95h4.0M350.73 138.07h4.0M350.73 157.14h4.0M352.27 138.18h4.0M352.27 157.34h4.0M353.82 138.32h4.0M353.82 157.55h4.0M355.37 138.48h4.0M355.37 157.75h4.0M356.92 138.65h4.0M356.92 157.96h4.0M358.47 138.83h4.0M358.47 158.15h4.0M360.02 139.01h4.0M360.02 158.34h4.0M361.57 139.18h4.0M361.57 158.50h4.0M363.12 139.33h4.0M363.12 158.64h4.0M364.67 139.48h4.0M364.67 158.77h4.0M366.22 139.63h4.0M366.22 158.90h4.0M367.76 139.79h4.0M367.76 159.03h4.0M369.31 139.95h4.0M369.31 159.15h4.0M370.86 140.11h4.0M370.86 159.27h4.0M372.41 140.27h4.0M372.41 159.39h4.0M373.96 140.44h4.0M373.96 159.50h4.0M375.51 140.60h4.0M375.51 159.61h4.0M377.06 140.78h4.0M377.06 159.71h4.0M378.61 140.95h4.0M378.61 159.81h4.0M380.16 141.13h4.0M380.16 159.91h4.0M381.71 141.31h4.0M381.71 159.99h4.0M383.25 141.49h4.0M383.25 160.08h4.0M384.80 141.67h4.0M384.80 160.15h4.0M386.35 141.86h4.0M386.35 160.22h4.0M387.90 142.05h4.0M387.90 160.28h4.0M389.45 142.25h4.0M389.45 160.33h4.0M391.00 142.44h4.0M391.00 160.38h4.0M236.10 282.60h4.0M236.10 282.60h4.0M237.65 279.57h4.0M237.65 279.81h4.0M239.20 276.53h4.0M239.20 277.02h4.0M240.75 273.50h4.0M240.75 274.23h4.0M242.30 270.46h4.0M242.30 271.44h4.0M243.84 267.43h4.0M243.84 268.66h4.0M245.39 264.39h4.0M245.39 265.87h4.0M246.94 261.36h4.0M246.94 263.08h4.0M248.49 258.32h4.0M248.49 260.30h4.0M250.04 255.29h4.0M250.04 257.52h4.0M251.59 252.25h4.0M251.59 254.73h4.0M253.14 249.21h4.0M253.14 251.95h4.0M254.69 246.17h4.0M254.69 249.17h4.0M256.24 243.13h4.0M256.24 246.39h4.0M257.79 240.09h4.0M257.79 243.61h4.0M259.33 237.05h4.0M259.33 240.83h4.0M260.88 234.01h4.0M260.88 238.05h4.0M262.43 230.97h4.0M262.43 235.28h4.0M263.98 227.94h4.0M263.98 232.50h4.0M265.53 224.92h4.0M265.53 229.73h4.0M267.08 221.90h4.0M267.08 226.96h4.0M268.63 218.89h4.0M268.63 224.19h4.0M270.18 215.88h4.0M270.18 221.41h4.0M271.73 212.87h4.0M271.73 218.63h4.0M273.28 209.87h4.0M273.28 215.84h4.0M274.82 206.87h4.0M274.82 213.07h4.0M276.37 203.88h4.0M276.37 210.30h4.0M277.92 200.90h4.0M277.92 207.54h4.0M279.47 197.92h4.0M279.47 204.79h4.0M281.02 194.96h4.0M281.02 202.07h4.0M282.57 192.01h4.0M282.57 199.37h4.0M284.12 189.06h4.0M284.12 196.67h4.0M285.67 186.11h4.0M285.67 193.97h4.0M287.22 183.15h4.0M287.22 191.27h4.0M288.77 180.20h4.0M288.77 188.57h4.0M290.31 177.26h4.0M290.31 185.90h4.0M291.86 174.34h4.0M291.86 183.26h4.0M293.41 171.46h4.0M293.41 180.65h4.0M294.96 168.60h4.0M294.96 178.09h4.0M296.51 165.80h4.0M296.51 175.59h4.0M298.06 163.04h4.0M298.06 173.16h4.0M299.61 160.33h4.0M299.61 170.80h4.0M301.16 157.65h4.0M301.16 168.51h4.0M302.71 155.00h4.0M302.71 166.27h4.0M304.26 152.38h4.0M304.26 164.08h4.0M305.81 149.79h4.0M305.81 161.91h4.0M307.35 147.23h4.0M307.35 159.76h4.0M308.90 144.70h4.0M308.90 157.62h4.0M310.45 142.20h4.0M310.45 155.46h4.0M312.00 139.73h4.0M312.00 153.29h4.0M313.55 137.29h4.0M313.55 151.09h4.0M315.10 134.87h4.0M315.10 148.85h4.0M316.65 132.47h4.0M316.65 146.60h4.0M318.20 130.09h4.0M318.20 144.35h4.0M319.75 127.75h4.0M319.75 142.09h4.0M321.30 125.45h4.0M321.30 139.83h4.0M322.84 123.20h4.0M322.84 137.59h4.0M324.39 121.02h4.0M324.39 135.36h4.0M325.94 118.90h4.0M325.94 133.15h4.0M327.49 116.81h4.0M327.49 130.95h4.0M329.04 114.74h4.0M329.04 128.75h4.0M330.59 112.71h4.0M330.59 126.56h4.0M332.14 110.74h4.0M332.14 124.40h4.0M333.69 108.87h4.0M333.69 122.30h4.0M335.24 107.14h4.0M335.24 120.28h4.0M336.78 105.56h4.0M336.78 118.28h4.0M338.33 104.14h4.0M338.33 116.29h4.0M339.88 102.81h4.0M339.88 114.38h4.0M341.43 101.56h4.0M341.43 112.62h4.0M342.98 100.38h4.0M342.98 111.08h4.0M344.53 99.24h4.0M344.53 109.73h4.0M346.08 98.13h4.0M346.08 108.51h4.0M347.63 97.02h4.0M347.63 107.42h4.0M349.18 95.91h4.0M349.18 106.48h4.0M350.73 94.76h4.0M350.73 105.64h4.0M352.27 93.60h4.0M352.27 104.82h4.0M353.82 92.47h4.0M353.82 104.08h4.0M355.37 91.40h4.0M355.37 103.45h4.0M356.92 90.44h4.0M356.92 102.99h4.0M358.47 89.61h4.0M358.47 102.71h4.0M360.02 88.84h4.0M360.02 102.49h4.0M361.57 88.12h4.0M361.57 102.29h4.0M363.12 87.44h4.0M363.12 102.11h4.0M364.67 86.80h4.0M364.67 101.96h4.0M366.22 86.20h4.0M366.22 101.84h4.0M367.76 85.66h4.0M367.76 101.76h4.0M369.31 85.15h4.0M369.31 101.71h4.0M370.86 84.69h4.0M370.86 101.71h4.0M372.41 84.26h4.0M372.41 101.76h4.0M373.96 83.86h4.0M373.96 101.87h4.0M375.51 83.49h4.0M375.51 102.01h4.0M377.06 83.15h4.0M377.06 102.18h4.0M378.61 82.85h4.0M378.61 102.36h4.0M380.16 82.57h4.0M380.16 102.53h4.0M381.71 82.32h4.0M381.71 102.71h4.0M383.25 82.08h4.0M383.25 102.91h4.0M384.80 81.86h4.0M384.80 103.13h4.0M386.35 81.66h4.0M386.35 103.37h4.0M387.90 81.48h4.0M387.90 103.63h4.0M389.45 81.32h4.0M389.45 103.90h4.0M391.00 81.19h4.0M391.00 104.18h4.0M236.10 282.60h4.0M236.10 282.60h4.0M237.65 279.45h4.0M237.65 279.81h4.0M239.20 276.31h4.0M239.20 277.02h4.0M240.75 273.17h4.0M240.75 274.23h4.0M242.30 270.04h4.0M242.30 271.44h4.0M243.84 266.91h4.0M243.84 268.66h4.0M245.39 263.78h4.0M245.39 265.87h4.0M246.94 260.66h4.0M246.94 263.08h4.0M248.49 257.55h4.0M248.49 260.30h4.0M250.04 254.44h4.0M250.04 257.52h4.0M251.59 251.33h4.0M251.59 254.73h4.0M253.14 248.23h4.0M253.14 251.95h4.0M254.69 245.13h4.0M254.69 249.17h4.0M256.24 242.03h4.0M256.24 246.39h4.0M257.79 238.93h4.0M257.79 243.61h4.0M259.33 235.84h4.0M259.33 240.83h4.0M260.88 232.76h4.0M260.88 238.05h4.0M262.43 229.68h4.0M262.43 235.28h4.0M263.98 226.62h4.0M263.98 232.50h4.0M265.53 223.56h4.0M265.53 229.73h4.0M267.08 220.52h4.0M267.08 226.96h4.0M268.63 217.49h4.0M268.63 224.19h4.0M270.18 214.46h4.0M270.18 221.42h4.0M271.73 211.44h4.0M271.73 218.64h4.0M273.28 208.43h4.0M273.28 215.87h4.0M274.82 205.43h4.0M274.82 213.10h4.0M276.37 202.44h4.0M276.37 210.33h4.0M277.92 199.47h4.0M277.92 207.57h4.0M279.47 196.51h4.0M279.47 204.83h4.0M281.02 193.56h4.0M281.02 202.09h4.0M282.57 190.63h4.0M282.57 199.37h4.0M284.12 187.73h4.0M284.12 196.66h4.0M285.67 184.85h4.0M285.67 193.94h4.0M287.22 181.98h4.0M287.22 191.24h4.0M288.77 179.14h4.0M288.77 188.53h4.0M290.31 176.30h4.0M290.31 185.84h4.0M291.86 173.47h4.0M291.86 183.17h4.0M293.41 170.64h4.0M293.41 180.52h4.0M294.96 167.81h4.0M294.96 177.88h4.0M296.51 164.97h4.0M296.51 175.28h4.0M298.06 162.12h4.0M298.06 172.70h4.0M299.61 159.24h4.0M299.61 170.15h4.0M301.16 156.31h4.0M301.16 167.63h4.0M302.71 153.36h4.0M302.71 165.13h4.0M304.26 150.41h4.0M304.26 162.65h4.0M305.81 147.50h4.0M305.81 160.19h4.0M307.35 144.64h4.0M307.35 157.75h4.0M308.90 141.86h4.0M308.90 155.34h4.0M310.45 139.19h4.0M310.45 152.94h4.0M312.00 136.64h4.0M312.00 150.57h4.0M313.55 134.18h4.0M313.55 148.23h4.0M315.10 131.79h4.0M315.10 145.91h4.0M316.65 129.46h4.0M316.65 143.61h4.0M318.20 127.17h4.0M318.20 141.33h4.0M319.75 124.90h4.0M319.75 139.05h4.0M321.30 122.62h4.0M321.30 136.78h4.0M322.84 120.33h4.0M322.84 134.51h4.0M324.39 117.99h4.0M324.39 132.23h4.0M325.94 115.60h4.0M325.94 129.95h4.0M327.49 113.17h4.0M327.49 127.67h4.0M329.04 110.71h4.0M329.04 125.39h4.0M330.59 108.26h4.0M330.59 123.12h4.0M332.14 105.83h4.0M332.14 120.85h4.0M333.69 103.45h4.0M333.69 118.59h4.0M335.24 101.14h4.0M335.24 116.34h4.0M336.78 98.93h4.0M336.78 114.09h4.0M338.33 96.82h4.0M338.33 111.86h4.0M339.88 94.77h4.0M339.88 109.65h4.0M341.43 92.77h4.0M341.43 107.44h4.0M342.98 90.80h4.0M342.98 105.23h4.0M344.53 88.84h4.0M344.53 103.00h4.0M346.08 86.85h4.0M346.08 100.73h4.0M347.63 84.84h4.0M347.63 98.41h4.0M349.18 82.83h4.0M349.18 96.02h4.0M350.73 80.82h4.0M350.73 93.62h4.0M352.27 78.83h4.0M352.27 91.30h4.0M353.82 76.83h4.0M353.82 89.06h4.0M355.37 74.79h4.0M355.37 86.80h4.0M356.92 72.74h4.0M356.92 84.58h4.0M358.47 70.72h4.0M358.47 82.42h4.0M360.02 68.78h4.0M360.02 80.36h4.0M361.57 66.93h4.0M361.57 78.45h4.0M363.12 65.23h4.0M363.12 76.72h4.0M364.67 63.60h4.0M364.67 75.09h4.0M366.22 62.01h4.0M366.22 73.50h4.0M367.76 60.46h4.0M367.76 71.99h4.0M369.31 58.99h4.0M369.31 70.55h4.0M370.86 57.59h4.0M370.86 69.21h4.0M372.41 56.27h4.0M372.41 67.99h4.0M373.96 55.06h4.0M373.96 66.89h4.0M375.51 53.96h4.0M375.51 65.93h4.0M377.06 52.94h4.0M377.06 65.08h4.0M378.61 51.98h4.0M378.61 64.30h4.0M380.16 51.08h4.0M380.16 63.58h4.0M381.71 50.23h4.0M381.71 62.91h4.0M383.25 49.41h4.0M383.25 62.28h4.0M384.80 48.64h4.0M384.80 61.69h4.0M386.35 47.90h4.0M386.35 61.12h4.0M387.90 47.19h4.0M387.90 60.56h4.0M389.45 46.50h4.0M389.45 60.00h4.0M391.00 45.88h4.0M391.00 59.49h4.0" stroke="#1414ff" stroke-width="1.0" fill="none"/>
<g stroke="#0000e8" stroke-width="2.3" fill="none" stroke-linejoin="round"><polyline points="238.10,282.60 238.87,281.15 239.65,279.70 240.42,278.25 241.20,276.81 241.97,275.36 242.75,273.91 243.52,272.46 244.30,271.01 245.07,269.56 245.84,268.12 246.62,266.70 247.39,265.51 248.17,264.91 248.94,264.76 249.72,264.72 250.49,264.69 251.27,264.67 252.04,264.66 252.82,264.64 253.59,264.62 254.36,264.60 255.14,264.58 255.91,264.56 256.69,264.54 257.46,264.53 258.24,264.51 259.01,264.49 259.79,264.47 260.56,264.45 261.33,264.43 262.11,264.41 262.88,264.39 263.66,264.37 264.43,264.35 265.21,264.33 265.98,264.31 266.76,264.29 267.53,264.27 268.31,264.25 269.08,264.23 269.85,264.21 270.63,264.19 271.40,264.17 272.18,264.15 272.95,264.13 273.73,264.11 274.50,264.09 275.28,264.07 276.05,264.05 276.82,264.03 277.60,264.00 278.37,263.98 279.15,263.96 279.92,263.94 280.70,263.92 281.47,263.90 282.25,263.88 283.02,263.85 283.80,263.83 284.57,263.81 285.34,263.79 286.12,263.77 286.89,263.74 287.67,263.72 288.44,263.70 289.22,263.68 289.99,263.65 290.77,263.63 291.54,263.61 292.31,263.58 293.09,263.56 293.86,263.54 294.64,263.52 295.41,263.49 296.19,263.47 296.96,263.45 297.74,263.42 298.51,263.40 299.29,263.37 300.06,263.35 300.83,263.33 301.61,263.30 302.38,263.28 303.16,263.25 303.93,263.23 304.71,263.21 305.48,263.18 306.26,263.16 307.03,263.13 307.81,263.11 308.58,263.08 309.35,263.06 310.13,263.03 310.90,263.01 311.68,262.98 312.45,262.96 313.23,262.93 314.00,262.91 314.78,262.88 315.55,262.86 316.32,262.83 317.10,262.80 317.87,262.78 318.65,262.75 319.42,262.73 320.20,262.70 320.97,262.67 321.75,262.65 322.52,262.62 323.30,262.60 324.07,262.57 324.84,262.54 325.62,262.52 326.39,262.49 327.17,262.46 327.94,262.43 328.72,262.41 329.49,262.38 330.27,262.35 331.04,262.33 331.81,262.30 332.59,262.27 333.36,262.24 334.14,262.22 334.91,262.19 335.69,262.16 336.46,262.13 337.24,262.10 338.01,262.08 338.78,262.05 339.56,262.02 340.33,261.99 341.11,261.96 341.88,261.93 342.66,261.90 343.43,261.88 344.21,261.85 344.98,261.82 345.76,261.79 346.53,261.76 347.30,261.73 348.08,261.70 348.85,261.67 349.63,261.64 350.40,261.61 351.18,261.58 351.95,261.55 352.73,261.52 353.50,261.49 354.27,261.46 355.05,261.43 355.82,261.40 356.60,261.37 357.37,261.34 358.15,261.31 358.92,261.28 359.70,261.25 360.47,261.22 361.25,261.19 362.02,261.16 362.79,261.13 363.57,261.09 364.34,261.06 365.12,261.03 365.89,261.00 366.67,260.97 367.44,260.94 368.22,260.91 368.99,260.87 369.76,260.84 370.54,260.81 371.31,260.78 372.09,260.75 372.86,260.71 373.64,260.68 374.41,260.65 375.19,260.62 375.96,260.58 376.74,260.55 377.51,260.52 378.28,260.49 379.06,260.45 379.83,260.42 380.61,260.39 381.38,260.35 382.16,260.32 382.93,260.29 383.71,260.25 384.48,260.22 385.25,260.19 386.03,260.15 386.80,260.12 387.58,260.08 388.35,260.05 389.13,260.02 389.90,259.98 390.68,259.95 391.45,259.91 392.23,259.88 393.00,259.84"/><polyline points="238.10,282.60 238.87,281.17 239.65,279.75 240.42,278.32 241.20,276.90 241.97,275.47 242.75,274.05 243.52,272.62 244.30,271.20 245.07,269.77 245.84,268.35 246.62,266.92 247.39,265.49 248.17,264.07 248.94,262.64 249.72,261.22 250.49,259.79 251.27,258.37 252.04,256.94 252.82,255.52 253.59,254.09 254.36,252.67 255.14,251.24 255.91,249.81 256.69,248.39 257.46,246.96 258.24,245.54 259.01,244.12 259.79,242.69 260.56,241.27 261.33,239.85 262.11,238.43 262.88,237.01 263.66,235.59 264.43,234.18 265.21,232.77 265.98,231.37 266.76,229.97 267.53,228.58 268.31,227.21 269.08,225.84 269.85,224.50 270.63,223.18 271.40,221.88 272.18,220.61 272.95,219.38 273.73,218.18 274.50,217.04 275.28,215.94 276.05,214.91 276.82,213.93 277.60,213.03 278.37,212.19 279.15,211.41 279.92,210.71 280.70,210.08 281.47,209.51 282.25,209.01 283.02,208.56 283.80,208.17 284.57,207.82 285.34,207.52 286.12,207.26 286.89,207.03 287.67,206.83 288.44,206.66 289.22,206.51 289.99,206.39 290.77,206.27 291.54,206.18 292.31,206.09 293.09,206.02 293.86,205.96 294.64,205.90 295.41,205.85 296.19,205.81 296.96,205.77 297.74,205.74 298.51,205.71 299.29,205.69 300.06,205.66 300.83,205.64 301.61,205.62 302.38,205.61 303.16,205.59 303.93,205.58 304.71,205.57 305.48,205.55 306.26,205.54 307.03,205.53 307.81,205.52 308.58,205.52 309.35,205.51 310.13,205.50 310.90,205.49 311.68,205.49 312.45,205.48 313.23,205.48 314.00,205.47 314.78,205.47 315.55,205.46 316.32,205.46 317.10,205.45 317.87,205.45 318.65,205.44 319.42,205.44 320.20,205.44 320.97,205.43 321.75,205.43 322.52,205.42 323.30,205.42 324.07,205.42 324.84,205.41 325.62,205.41 326.39,205.41 327.17,205.40 327.94,205.40 328.72,205.40 329.49,205.40 330.27,205.39 331.04,205.39 331.81,205.39 332.59,205.39 333.36,205.38 334.14,205.38 334.91,205.38 335.69,205.38 336.46,205.37 337.24,205.37 338.01,205.37 338.78,205.37 339.56,205.37 340.33,205.36 341.11,205.36 341.88,205.36 342.66,205.36 343.43,205.36 344.21,205.36 344.98,205.35 345.76,205.35 346.53,205.35 347.30,205.35 348.08,205.35 348.85,205.35 349.63,205.35 350.40,205.34 351.18,205.34 351.95,205.34 352.73,205.34 353.50,205.34 354.27,205.34 355.05,205.34 355.82,205.34 356.60,205.34 357.37,205.33 358.15,205.33 358.92,205.33 359.70,205.33 360.47,205.33 361.25,205.33 362.02,205.33 362.79,205.33 363.57,205.33 364.34,205.33 365.12,205.33 365.89,205.33 366.67,205.33 367.44,205.33 368.22,205.33 368.99,205.33 369.76,205.33 370.54,205.33 371.31,205.33 372.09,205.33 372.86,205.33 373.64,205.33 374.41,205.33 375.19,205.33 375.96,205.33 376.74,205.33 377.51,205.33 378.28,205.33 379.06,205.33 379.83,205.33 380.61,205.33 381.38,205.33 382.16,205.33 382.93,205.34 383.71,205.34 384.48,205.34 385.25,205.34 386.03,205.34 386.80,205.34 387.58,205.34 388.35,205.34 389.13,205.34 389.90,205.34 390.68,205.35 391.45,205.35 392.23,205.35 393.00,205.35"/><polyline points="238.10,282.60 238.87,281.15 239.65,279.70 240.42,278.25 241.20,276.81 241.97,275.36 242.75,273.91 243.52,272.46 244.30,271.01 245.07,269.56 245.84,268.12 246.62,266.67 247.39,265.22 248.17,263.77 248.94,262.32 249.72,260.87 250.49,259.42 251.27,257.98 252.04,256.53 252.82,255.08 253.59,253.63 254.36,252.18 255.14,250.73 255.91,249.28 256.69,247.83 257.46,246.38 258.24,244.93 259.01,243.47 259.79,242.02 260.56,240.57 261.33,239.12 262.11,237.67 262.88,236.22 263.66,234.77 264.43,233.32 265.21,231.87 265.98,230.43 266.76,228.98 267.53,227.54 268.31,226.10 269.08,224.66 269.85,223.22 270.63,221.78 271.40,220.34 272.18,218.89 272.95,217.45 273.73,216.00 274.50,214.56 275.28,213.12 276.05,211.68 276.82,210.24 277.60,208.80 278.37,207.37 279.15,205.95 279.92,204.53 280.70,203.11 281.47,201.70 282.25,200.30 283.02,198.91 283.80,197.53 284.57,196.15 285.34,194.78 286.12,193.39 286.89,192.00 287.67,190.61 288.44,189.22 289.22,187.84 289.99,186.46 290.77,185.09 291.54,183.74 292.31,182.41 293.09,181.10 293.86,179.82 294.64,178.56 295.41,177.34 296.19,176.15 296.96,175.00 297.74,173.88 298.51,172.77 299.29,171.68 300.06,170.61 300.83,169.56 301.61,168.53 302.38,167.54 303.16,166.57 303.93,165.63 304.71,164.73 305.48,163.87 306.26,163.04 307.03,162.25 307.81,161.48 308.58,160.74 309.35,160.01 310.13,159.31 310.90,158.63 311.68,157.97 312.45,157.34 313.23,156.72 314.00,156.13 314.78,155.56 315.55,155.01 316.32,154.48 317.10,153.97 317.87,153.48 318.65,153.01 319.42,152.57 320.20,152.14 320.97,151.73 321.75,151.33 322.52,150.94 323.30,150.55 324.07,150.19 324.84,149.85 325.62,149.55 326.39,149.29 327.17,149.07 327.94,148.85 328.72,148.63 329.49,148.42 330.27,148.22 331.04,148.04 331.81,147.89 332.59,147.76 333.36,147.66 334.14,147.61 334.91,147.59 335.69,147.59 336.46,147.59 337.24,147.59 338.01,147.59 338.78,147.59 339.56,147.59 340.33,147.59 341.11,147.59 341.88,147.59 342.66,147.59 343.43,147.59 344.21,147.59 344.98,147.59 345.76,147.59 346.53,147.59 347.30,147.59 348.08,147.59 348.85,147.59 349.63,147.60 350.40,147.62 351.18,147.65 351.95,147.69 352.73,147.74 353.50,147.80 354.27,147.86 355.05,147.93 355.82,148.01 356.60,148.09 357.37,148.17 358.15,148.26 358.92,148.35 359.70,148.44 360.47,148.53 361.25,148.61 362.02,148.70 362.79,148.78 363.57,148.85 364.34,148.92 365.12,148.98 365.89,149.05 366.67,149.11 367.44,149.17 368.22,149.23 368.99,149.29 369.76,149.35 370.54,149.41 371.31,149.47 372.09,149.53 372.86,149.58 373.64,149.64 374.41,149.70 375.19,149.76 375.96,149.82 376.74,149.87 377.51,149.93 378.28,149.99 379.06,150.04 379.83,150.10 380.61,150.16 381.38,150.21 382.16,150.27 382.93,150.32 383.71,150.37 384.48,150.43 385.25,150.48 386.03,150.54 386.80,150.59 387.58,150.64 388.35,150.69 389.13,150.74 389.90,150.80 390.68,150.85 391.45,150.90 392.23,150.95 393.00,151.00"/><polyline points="238.10,282.60 238.87,281.15 239.65,279.70 240.42,278.25 241.20,276.81 241.97,275.36 242.75,273.91 243.52,272.46 244.30,271.01 245.07,269.56 245.84,268.12 246.62,266.67 247.39,265.22 248.17,263.77 248.94,262.32 249.72,260.87 250.49,259.42 251.27,257.98 252.04,256.53 252.82,255.08 253.59,253.63 254.36,252.18 255.14,250.73 255.91,249.28 256.69,247.83 257.46,246.38 258.24,244.93 259.01,243.47 259.79,242.02 260.56,240.57 261.33,239.12 262.11,237.67 262.88,236.22 263.66,234.77 264.43,233.32 265.21,231.87 265.98,230.43 266.76,228.98 267.53,227.54 268.31,226.10 269.08,224.66 269.85,223.22 270.63,221.79 271.40,220.35 272.18,218.91 272.95,217.47 273.73,216.03 274.50,214.59 275.28,213.16 276.05,211.72 276.82,210.29 277.60,208.86 278.37,207.43 279.15,206.01 279.92,204.59 280.70,203.17 281.47,201.76 282.25,200.35 283.02,198.94 283.80,197.54 284.57,196.15 285.34,194.76 286.12,193.38 286.89,191.99 287.67,190.61 288.44,189.23 289.22,187.85 289.99,186.48 290.77,185.11 291.54,183.75 292.31,182.38 293.09,181.03 293.86,179.67 294.64,178.32 295.41,176.98 296.19,175.64 296.96,174.30 297.74,172.97 298.51,171.65 299.29,170.33 300.06,169.02 300.83,167.71 301.61,166.41 302.38,165.10 303.16,163.80 303.93,162.50 304.71,161.20 305.48,159.91 306.26,158.63 307.03,157.34 307.81,156.07 308.58,154.80 309.35,153.53 310.13,152.28 310.90,151.03 311.68,149.79 312.45,148.56 313.23,147.34 314.00,146.12 314.78,144.92 315.55,143.73 316.32,142.55 317.10,141.37 317.87,140.21 318.65,139.05 319.42,137.90 320.20,136.76 320.97,135.62 321.75,134.50 322.52,133.38 323.30,132.27 324.07,131.17 324.84,130.08 325.62,128.99 326.39,127.92 327.17,126.85 327.94,125.80 328.72,124.75 329.49,123.71 330.27,122.68 331.04,121.65 331.81,120.64 332.59,119.63 333.36,118.64 334.14,117.66 334.91,116.69 335.69,115.73 336.46,114.78 337.24,113.84 338.01,112.91 338.78,111.98 339.56,111.05 340.33,110.13 341.11,109.22 341.88,108.34 342.66,107.48 343.43,106.65 344.21,105.86 344.98,105.10 345.76,104.38 346.53,103.67 347.30,102.98 348.08,102.32 348.85,101.69 349.63,101.10 350.40,100.55 351.18,100.05 351.95,99.58 352.73,99.12 353.50,98.68 354.27,98.25 355.05,97.85 355.82,97.46 356.60,97.10 357.37,96.77 358.15,96.46 358.92,96.19 359.70,95.95 360.47,95.74 361.25,95.53 362.02,95.33 362.79,95.13 363.57,94.94 364.34,94.76 365.12,94.59 365.89,94.43 366.67,94.28 367.44,94.14 368.22,94.01 368.99,93.90 369.76,93.81 370.54,93.73 371.31,93.66 372.09,93.62 372.86,93.58 373.64,93.55 374.41,93.52 375.19,93.49 375.96,93.46 376.74,93.44 377.51,93.41 378.28,93.39 379.06,93.36 379.83,93.34 380.61,93.32 381.38,93.30 382.16,93.28 382.93,93.26 383.71,93.25 384.48,93.23 385.25,93.22 386.03,93.20 386.80,93.19 387.58,93.18 388.35,93.17 389.13,93.17 389.90,93.16 390.68,93.15 391.45,93.15 392.23,93.15 393.00,93.15"/><polyline points="238.10,282.60 238.87,281.14 239.65,279.68 240.42,278.23 241.20,276.77 241.97,275.31 242.75,273.86 243.52,272.41 244.30,270.96 245.07,269.51 245.84,268.06 246.62,266.61 247.39,265.16 248.17,263.72 248.94,262.27 249.72,260.83 250.49,259.39 251.27,257.95 252.04,256.51 252.82,255.07 253.59,253.63 254.36,252.19 255.14,250.76 255.91,249.32 256.69,247.89 257.46,246.46 258.24,245.03 259.01,243.60 259.79,242.17 260.56,240.74 261.33,239.32 262.11,237.89 262.88,236.47 263.66,235.05 264.43,233.63 265.21,232.20 265.98,230.79 266.76,229.37 267.53,227.95 268.31,226.54 269.08,225.12 269.85,223.71 270.63,222.29 271.40,220.88 272.18,219.46 272.95,218.04 273.73,216.63 274.50,215.21 275.28,213.80 276.05,212.39 276.82,210.98 277.60,209.57 278.37,208.17 279.15,206.77 279.92,205.37 280.70,203.97 281.47,202.58 282.25,201.20 283.02,199.82 283.80,198.44 284.57,197.07 285.34,195.71 286.12,194.35 286.89,192.99 287.67,191.64 288.44,190.29 289.22,188.94 289.99,187.60 290.77,186.26 291.54,184.93 292.31,183.59 293.09,182.26 293.86,180.94 294.64,179.61 295.41,178.29 296.19,176.97 296.96,175.65 297.74,174.34 298.51,173.02 299.29,171.71 300.06,170.40 300.83,169.09 301.61,167.78 302.38,166.48 303.16,165.17 303.93,163.87 304.71,162.57 305.48,161.27 306.26,159.97 307.03,158.68 307.81,157.39 308.58,156.11 309.35,154.83 310.13,153.55 310.90,152.28 311.68,151.01 312.45,149.75 313.23,148.49 314.00,147.24 314.78,145.99 315.55,144.74 316.32,143.50 317.10,142.26 317.87,141.02 318.65,139.79 319.42,138.56 320.20,137.33 320.97,136.11 321.75,134.89 322.52,133.68 323.30,132.46 324.07,131.26 324.84,130.05 325.62,128.85 326.39,127.65 327.17,126.46 327.94,125.27 328.72,124.09 329.49,122.91 330.27,121.73 331.04,120.55 331.81,119.39 332.59,118.22 333.36,117.06 334.14,115.90 334.91,114.74 335.69,113.59 336.46,112.44 337.24,111.30 338.01,110.16 338.78,109.02 339.56,107.88 340.33,106.75 341.11,105.62 341.88,104.50 342.66,103.37 343.43,102.26 344.21,101.14 344.98,100.03 345.76,98.93 346.53,97.83 347.30,96.73 348.08,95.64 348.85,94.55 349.63,93.47 350.40,92.40 351.18,91.33 351.95,90.27 352.73,89.22 353.50,88.17 354.27,87.13 355.05,86.09 355.82,85.04 356.60,83.98 357.37,82.93 358.15,81.87 358.92,80.82 359.70,79.78 360.47,78.75 361.25,77.73 362.02,76.74 362.79,75.77 363.57,74.82 364.34,73.91 365.12,73.03 365.89,72.15 366.67,71.28 367.44,70.42 368.22,69.56 368.99,68.72 369.76,67.88 370.54,67.07 371.31,66.27 372.09,65.50 372.86,64.74 373.64,64.02 374.41,63.32 375.19,62.65 375.96,62.01 376.74,61.41 377.51,60.85 378.28,60.31 379.06,59.78 379.83,59.27 380.61,58.77 381.38,58.28 382.16,57.81 382.93,57.35 383.71,56.91 384.48,56.47 385.25,56.06 386.03,55.65 386.80,55.26 387.58,54.88 388.35,54.52 389.13,54.17 389.90,53.83 390.68,53.51 391.45,53.20 392.23,52.93 393.00,52.68"/><line x1="238.10" y1="282.60" x2="393.00" y2="282.60"/></g>

<line x1="234.1" y1="282.60" x2="238.1" y2="282.60" stroke="#727272" stroke-width="1"/><line x1="234.1" y1="236.62" x2="238.1" y2="236.62" stroke="#727272" stroke-width="1"/><line x1="234.1" y1="190.63" x2="238.1" y2="190.63" stroke="#727272" stroke-width="1"/><line x1="234.1" y1="144.65" x2="238.1" y2="144.65" stroke="#727272" stroke-width="1"/><line x1="234.1" y1="98.67" x2="238.1" y2="98.67" stroke="#727272" stroke-width="1"/><line x1="234.1" y1="52.68" x2="238.1" y2="52.68" stroke="#727272" stroke-width="1"/><line x1="234.1" y1="6.70" x2="238.1" y2="6.70" stroke="#727272" stroke-width="1"/><line x1="235.7" y1="259.61" x2="238.1" y2="259.61" stroke="#727272" stroke-width="1"/><line x1="235.7" y1="213.62" x2="238.1" y2="213.62" stroke="#727272" stroke-width="1"/><line x1="235.7" y1="167.64" x2="238.1" y2="167.64" stroke="#727272" stroke-width="1"/><line x1="235.7" y1="121.66" x2="238.1" y2="121.66" stroke="#727272" stroke-width="1"/><line x1="235.7" y1="75.68" x2="238.1" y2="75.68" stroke="#727272" stroke-width="1"/><line x1="235.7" y1="29.69" x2="238.1" y2="29.69" stroke="#727272" stroke-width="1"/>

<line x1="238.10" y1="282.6" x2="238.10" y2="286.8" stroke="#727272" stroke-width="1"/><line x1="269.08" y1="282.6" x2="269.08" y2="286.8" stroke="#727272" stroke-width="1"/><line x1="300.06" y1="282.6" x2="300.06" y2="286.8" stroke="#727272" stroke-width="1"/><line x1="331.04" y1="282.6" x2="331.04" y2="286.8" stroke="#727272" stroke-width="1"/><line x1="362.02" y1="282.6" x2="362.02" y2="286.8" stroke="#727272" stroke-width="1"/><line x1="393.00" y1="282.6" x2="393.00" y2="286.8" stroke="#727272" stroke-width="1"/><line x1="253.59" y1="282.6" x2="253.59" y2="285.2" stroke="#727272" stroke-width="1"/><line x1="284.57" y1="282.6" x2="284.57" y2="285.2" stroke="#727272" stroke-width="1"/><line x1="315.55" y1="282.6" x2="315.55" y2="285.2" stroke="#727272" stroke-width="1"/><line x1="346.53" y1="282.6" x2="346.53" y2="285.2" stroke="#727272" stroke-width="1"/><line x1="377.51" y1="282.6" x2="377.51" y2="285.2" stroke="#727272" stroke-width="1"/>

<text transform="translate(233.60,286.80) scale(0.85,1)" font-size="12.5" font-weight="bold" text-anchor="end" fill="#000" >0</text>

<text transform="translate(233.60,240.82) scale(0.85,1)" font-size="12.5" font-weight="bold" text-anchor="end" fill="#000" >50</text>

<text transform="translate(233.60,194.83) scale(0.85,1)" font-size="12.5" font-weight="bold" text-anchor="end" fill="#000" >100</text>

<text transform="translate(233.60,148.85) scale(0.85,1)" font-size="12.5" font-weight="bold" text-anchor="end" fill="#000" >150</text>

<text transform="translate(233.60,102.87) scale(0.85,1)" font-size="12.5" font-weight="bold" text-anchor="end" fill="#000" >200</text>

<text transform="translate(233.60,56.88) scale(0.85,1)" font-size="12.5" font-weight="bold" text-anchor="end" fill="#000" >250</text>

<text transform="translate(233.60,10.90) scale(0.85,1)" font-size="12.5" font-weight="bold" text-anchor="end" fill="#000" >300</text>

<text transform="translate(238.10,300.00) scale(0.85,1)" font-size="12.5" font-weight="bold" text-anchor="middle" fill="#000" >0</text>

<text transform="translate(269.08,300.00) scale(0.85,1)" font-size="12.5" font-weight="bold" text-anchor="middle" fill="#000" >2</text>

<text transform="translate(300.06,300.00) scale(0.85,1)" font-size="12.5" font-weight="bold" text-anchor="middle" fill="#000" >4</text>

<text transform="translate(331.04,300.00) scale(0.85,1)" font-size="12.5" font-weight="bold" text-anchor="middle" fill="#000" >6</text>

<text transform="translate(362.02,300.00) scale(0.85,1)" font-size="12.5" font-weight="bold" text-anchor="middle" fill="#000" >8</text>

<text transform="translate(393.00,300.00) scale(0.85,1)" font-size="12.5" font-weight="bold" text-anchor="middle" fill="#000" >10</text>

<text transform="translate(315.50,318.30) scale(0.91,1)" font-size="12.5" font-weight="bold" text-anchor="middle" fill="#000" >Drain voltage (V)</text>

<text transform="translate(211.40,152.00) rotate(-90) scale(1,0.78)" font-size="14.2" font-weight="bold" text-anchor="middle" fill="#000" >Drain current (mA/mm)</text>

<text transform="translate(242.60,19.90)" font-size="11.2" font-weight="normal" text-anchor="start" fill="#000" >(b)</text>

<text transform="translate(259.50,19.90) scale(0.95,1)" font-size="12.0" font-weight="bold" text-anchor="start" fill="#000" >w/ u-GaN</text>

<text transform="translate(240.60,36.60) scale(0.86,1)" font-size="13.6" font-weight="bold" text-anchor="start" fill="#000" >V</text>

<text transform="translate(248.40,42.00) scale(0.77,1)" font-size="10.8" font-weight="bold" text-anchor="start" fill="#000" >G</text>

<text transform="translate(258.20,36.60) scale(0.85,1)" font-size="13.6" font-weight="bold" text-anchor="start" fill="#000" >= 0-6 V, step = 1 V</text>

<rect x="439.2" y="6.7" width="154.2" height="276.0" fill="none" stroke="#727272" stroke-width="1.5"/>

<line x1="435.2" y1="282.70" x2="439.2" y2="282.70" stroke="#727272" stroke-width="1"/><line x1="435.2" y1="227.50" x2="439.2" y2="227.50" stroke="#727272" stroke-width="1"/><line x1="435.2" y1="172.30" x2="439.2" y2="172.30" stroke="#727272" stroke-width="1"/><line x1="435.2" y1="117.10" x2="439.2" y2="117.10" stroke="#727272" stroke-width="1"/><line x1="435.2" y1="61.90" x2="439.2" y2="61.90" stroke="#727272" stroke-width="1"/><line x1="435.2" y1="6.70" x2="439.2" y2="6.70" stroke="#727272" stroke-width="1"/><line x1="436.8" y1="255.10" x2="439.2" y2="255.10" stroke="#727272" stroke-width="1"/><line x1="436.8" y1="199.90" x2="439.2" y2="199.90" stroke="#727272" stroke-width="1"/><line x1="436.8" y1="144.70" x2="439.2" y2="144.70" stroke="#727272" stroke-width="1"/><line x1="436.8" y1="89.50" x2="439.2" y2="89.50" stroke="#727272" stroke-width="1"/><line x1="436.8" y1="34.30" x2="439.2" y2="34.30" stroke="#727272" stroke-width="1"/>

<line x1="478.6" y1="282.7" x2="478.6" y2="286.9" stroke="#727272" stroke-width="1"/><line x1="555.4" y1="282.7" x2="555.4" y2="286.9" stroke="#727272" stroke-width="1"/>
<text transform="translate(434.70,286.90) scale(0.85,1)" font-size="12.5" font-weight="bold" text-anchor="end" fill="#000" >20</text>

<text transform="translate(434.70,231.70) scale(0.85,1)" font-size="12.5" font-weight="bold" text-anchor="end" fill="#000" >30</text>

<text transform="translate(434.70,176.50) scale(0.85,1)" font-size="12.5" font-weight="bold" text-anchor="end" fill="#000" >40</text>

<text transform="translate(434.70,121.30) scale(0.85,1)" font-size="12.5" font-weight="bold" text-anchor="end" fill="#000" >50</text>

<text transform="translate(434.70,66.10) scale(0.85,1)" font-size="12.5" font-weight="bold" text-anchor="end" fill="#000" >60</text>

<text transform="translate(434.70,10.90) scale(0.85,1)" font-size="12.5" font-weight="bold" text-anchor="end" fill="#000" >70</text>

<text transform="translate(477.70,301.80) scale(0.96,1)" font-size="13.8" font-weight="bold" text-anchor="middle" fill="#000" >w/o</text>

<text transform="translate(476.40,316.50) scale(0.96,1)" font-size="13.8" font-weight="bold" text-anchor="middle" fill="#000" >u-GaN</text>

<text transform="translate(555.20,301.80) scale(0.96,1)" font-size="13.8" font-weight="bold" text-anchor="middle" fill="#000" >w/</text>

<text transform="translate(556.80,316.50) scale(0.96,1)" font-size="13.8" font-weight="bold" text-anchor="middle" fill="#000" >u-GaN</text>

<text transform="translate(442.60,20.00)" font-size="11.2" font-weight="normal" text-anchor="start" fill="#000" >(c)</text>

<text transform="translate(461.40,19.40)" font-size="12.6" font-weight="bold" text-anchor="start" fill="#000" >R</text>

<text transform="translate(470.40,25.30)" font-size="10.2" font-weight="bold" text-anchor="start" fill="#000" >on</text>

<text transform="translate(485.80,19.60)" font-size="12.8" font-weight="bold" text-anchor="start" fill="#000" >distributions</text>

<text transform="translate(416.20,204.60) rotate(-90) scale(1,0.84)" font-size="12.8" font-weight="bold" text-anchor="start" fill="#000" >R</text>

<text transform="translate(420.70,193.60) rotate(-90) scale(1,0.95)" font-size="11.5" font-weight="bold" text-anchor="start" fill="#000" >on</text>

<text transform="translate(416.40,175.40) rotate(-90) scale(1,0.76)" font-size="13.8" font-weight="bold" text-anchor="start" fill="#000" >(Ohm-mm)</text>

<polyline points="461.97,255.10 461.99,253.72 462.01,252.34 462.03,250.96 462.06,249.58 462.08,248.20 462.11,246.82 462.15,245.44 462.19,244.06 462.23,242.68 462.27,241.30 462.32,239.92 462.37,238.54 462.42,237.16 462.48,235.78 462.55,234.40 462.62,233.02 462.69,231.64 462.77,230.26 462.86,228.88 462.95,227.50 463.05,226.12 463.16,224.74 463.27,223.36 463.39,221.98 463.52,220.60 463.66,219.22 463.80,217.84 463.96,216.46 464.12,215.08 464.29,213.70 464.47,212.32 464.66,210.94 464.85,209.56 465.06,208.18 465.28,206.80 465.51,205.42 465.74,204.04 465.99,202.66 466.24,201.28 466.51,199.90 466.78,198.52 467.07,197.14 467.36,195.76 467.66,194.38 467.97,193.00 468.28,191.62 468.61,190.24 468.94,188.86 469.27,187.48 469.62,186.10 469.96,184.72 470.32,183.34 470.67,181.96 471.03,180.58 471.39,179.20 471.75,177.82 472.11,176.44 472.47,175.06 472.82,173.68 473.18,172.30 473.53,170.92 473.87,169.54 474.21,168.16 474.54,166.78 474.87,165.40 475.18,164.02 475.49,162.64 475.78,161.26 476.06,159.88 476.33,158.50 476.58,157.12 476.81,155.74 477.03,154.36 477.24,152.98 477.42,151.60 477.59,150.22 477.74,148.84 477.87,147.46 477.97,146.08 478.06,144.70 478.13,143.32 478.17,141.94 478.20,140.56 478.20,139.18 478.18,137.80 478.14,136.42 478.08,135.04 477.99,133.66 477.89,132.28 477.76,130.90 477.62,129.52 477.46,128.14 477.28,126.76 477.08,125.38 476.86,124.00 476.63,122.62 476.38,121.24 476.11,119.86 475.84,118.48 475.55,117.10 475.24,115.72 474.93,114.34 474.61,112.96 474.28,111.58 473.94,110.20 473.60,108.82 473.25,107.44 472.90,106.06 472.54,104.68 472.18,103.30 471.82,101.92 471.46,100.54 471.10,99.16 470.74,97.78 470.39,96.40 470.03,95.02 469.69,93.64 469.34,92.26 469.00,90.88 468.67,89.50 468.35,88.12 468.03,86.74 467.72,85.36 467.42,83.98 467.12,82.60 466.84,81.22 466.56,79.84 466.30,78.46 466.04,77.08 465.79,75.70 465.55,74.32 465.32,72.94 465.11,71.56 464.90,70.18 464.70,68.80 464.50,67.42 464.32,66.04 464.15,64.66 463.99,63.28 463.83,61.90 463.69,60.52 463.55,59.14 463.42,57.76 463.30,56.38 463.18,55.00 463.07,53.62 462.97,52.24 462.88,50.86 462.79,49.48 462.71,48.10 462.63,46.72 462.56,45.34 462.49,43.96 462.43,42.58 462.38,41.20 462.33,39.82 462.28,38.44 462.23,37.06 462.19,35.68 462.16,34.30" fill="none" stroke="#606060" stroke-width="1"/>
<polyline points="539.82,253.11 539.82,252.84 539.83,252.56 539.83,252.28 539.84,252.01 539.84,251.73 539.85,251.46 539.86,251.18 539.88,250.90 539.89,250.63 539.91,250.35 539.93,250.08 539.95,249.80 539.98,249.52 540.01,249.25 540.04,248.97 540.08,248.70 540.12,248.42 540.17,248.14 540.23,247.87 540.30,247.59 540.37,247.32 540.45,247.04 540.54,246.76 540.64,246.49 540.75,246.21 540.88,245.94 541.01,245.66 541.16,245.38 541.32,245.11 541.50,244.83 541.69,244.56 541.89,244.28 542.11,244.00 542.34,243.73 542.59,243.45 542.86,243.18 543.14,242.90 543.43,242.62 543.74,242.35 544.06,242.07 544.39,241.80 544.73,241.52 545.08,241.24 545.44,240.97 545.81,240.69 546.18,240.42 546.55,240.14 546.92,239.86 547.28,239.59 547.64,239.31 548.00,239.04 548.34,238.76 548.67,238.48 548.99,238.21 549.28,237.93 549.56,237.66 549.81,237.38 550.04,237.10 550.24,236.83 550.42,236.55 550.56,236.28 550.67,236.00 550.75,235.72 550.79,235.45 550.80,235.17 550.78,234.90 550.72,234.62 550.63,234.34 550.50,234.07 550.35,233.79 550.17,233.52 549.95,233.24 549.72,232.96 549.45,232.69 549.17,232.41 548.86,232.14 548.54,231.86 548.21,231.58 547.86,231.31 547.50,231.03 547.14,230.76 546.77,230.48 546.40,230.20 546.03,229.93 545.66,229.65 545.30,229.38 544.94,229.10 544.59,228.82 544.26,228.55 543.93,228.27 543.61,228.00 543.31,227.72 543.02,227.44 542.75,227.17 542.49,226.89 542.25,226.62 542.02,226.34 541.81,226.06 541.61,225.79 541.43,225.51 541.26,225.24 541.10,224.96 540.96,224.68 540.83,224.41 540.71,224.13 540.60,223.86 540.50,223.58 540.42,223.30 540.34,223.03 540.27,222.75 540.21,222.48 540.15,222.20 540.11,221.92 540.06,221.65 540.03,221.37 539.99,221.10 539.96,220.82 539.94,220.54 539.92,220.27 539.90,219.99 539.88,219.72 539.87,219.44 539.86,219.16 539.85,218.89 539.84,218.61 539.83,218.34 539.83,218.06 539.82,217.78 539.82,217.51" fill="none" stroke="#3030ff" stroke-width="1"/>
<path fill="#000" d="M448.7 94.4l2.4 2.4l-2.4 2.4l-2.4 -2.4zM450.6 92.2l2.4 2.4l-2.4 2.4l-2.4 -2.4zM452.1 91.0l2.4 2.4l-2.4 2.4l-2.4 -2.4zM463.3 94.4l2.4 2.4l-2.4 2.4l-2.4 -2.4zM472.6 95.0l2.4 2.4l-2.4 2.4l-2.4 -2.4zM476.3 88.8l2.4 2.4l-2.4 2.4l-2.4 -2.4zM474.5 101.9l2.4 2.4l-2.4 2.4l-2.4 -2.4zM470.7 103.7l2.4 2.4l-2.4 2.4l-2.4 -2.4zM468.9 110.8l2.4 2.4l-2.4 2.4l-2.4 -2.4zM456.2 108.9l2.4 2.4l-2.4 2.4l-2.4 -2.4zM454.3 114.0l2.4 2.4l-2.4 2.4l-2.4 -2.4zM454.3 116.8l2.4 2.4l-2.4 2.4l-2.4 -2.4zM458.1 113.0l2.4 2.4l-2.4 2.4l-2.4 -2.4zM459.9 113.6l2.4 2.4l-2.4 2.4l-2.4 -2.4zM461.8 114.9l2.4 2.4l-2.4 2.4l-2.4 -2.4zM463.3 115.8l2.4 2.4l-2.4 2.4l-2.4 -2.4zM465.5 114.5l2.4 2.4l-2.4 2.4l-2.4 -2.4zM467.4 113.0l2.4 2.4l-2.4 2.4l-2.4 -2.4zM456.6 122.0l2.4 2.4l-2.4 2.4l-2.4 -2.4zM459.9 122.9l2.4 2.4l-2.4 2.4l-2.4 -2.4zM465.1 120.5l2.4 2.4l-2.4 2.4l-2.4 -2.4zM452.5 131.7l2.4 2.4l-2.4 2.4l-2.4 -2.4zM467.0 128.9l2.4 2.4l-2.4 2.4l-2.4 -2.4zM472.6 126.5l2.4 2.4l-2.4 2.4l-2.4 -2.4zM469.3 133.6l2.4 2.4l-2.4 2.4l-2.4 -2.4zM471.1 135.4l2.4 2.4l-2.4 2.4l-2.4 -2.4zM457.7 137.3l2.4 2.4l-2.4 2.4l-2.4 -2.4zM468.9 134.7l2.4 2.4l-2.4 2.4l-2.4 -2.4zM470.7 136.0l2.4 2.4l-2.4 2.4l-2.4 -2.4zM458.1 138.4l2.4 2.4l-2.4 2.4l-2.4 -2.4zM463.7 152.8l2.4 2.4l-2.4 2.4l-2.4 -2.4zM468.9 157.5l2.4 2.4l-2.4 2.4l-2.4 -2.4zM470.7 156.5l2.4 2.4l-2.4 2.4l-2.4 -2.4zM456.2 162.7l2.4 2.4l-2.4 2.4l-2.4 -2.4zM458.1 162.1l2.4 2.4l-2.4 2.4l-2.4 -2.4zM461.4 164.0l2.4 2.4l-2.4 2.4l-2.4 -2.4zM459.9 166.8l2.4 2.4l-2.4 2.4l-2.4 -2.4zM465.5 165.8l2.4 2.4l-2.4 2.4l-2.4 -2.4zM454.3 170.1l2.4 2.4l-2.4 2.4l-2.4 -2.4zM467.4 170.1l2.4 2.4l-2.4 2.4l-2.4 -2.4zM465.5 174.6l2.4 2.4l-2.4 2.4l-2.4 -2.4zM458.1 180.4l2.4 2.4l-2.4 2.4l-2.4 -2.4zM461.8 178.9l2.4 2.4l-2.4 2.4l-2.4 -2.4zM463.7 178.3l2.4 2.4l-2.4 2.4l-2.4 -2.4zM454.0 187.3l2.4 2.4l-2.4 2.4l-2.4 -2.4zM467.4 186.9l2.4 2.4l-2.4 2.4l-2.4 -2.4zM469.3 187.3l2.4 2.4l-2.4 2.4l-2.4 -2.4zM458.6 180.6l2.4 2.4l-2.4 2.4l-2.4 -2.4zM461.9 178.8l2.4 2.4l-2.4 2.4l-2.4 -2.4zM453.7 188.0l2.4 2.4l-2.4 2.4l-2.4 -2.4zM456.2 190.0l2.4 2.4l-2.4 2.4l-2.4 -2.4zM459.4 190.0l2.4 2.4l-2.4 2.4l-2.4 -2.4zM450.5 195.5l2.4 2.4l-2.4 2.4l-2.4 -2.4zM467.8 187.0l2.4 2.4l-2.4 2.4l-2.4 -2.4zM470.3 188.8l2.4 2.4l-2.4 2.4l-2.4 -2.4zM473.5 190.0l2.4 2.4l-2.4 2.4l-2.4 -2.4zM462.4 198.7l2.4 2.4l-2.4 2.4l-2.4 -2.4zM461.7 54.8l2.4 2.4l-2.4 2.4l-2.4 -2.4zM463.3 56.4l2.4 2.4l-2.4 2.4l-2.4 -2.4z"/>
<path fill="#0000ff" d="M539.7 219.5l2.4 2.4l-2.4 2.4l-2.4 -2.4zM538.9 223.0l2.4 2.4l-2.4 2.4l-2.4 -2.4zM540.6 224.7l2.4 2.4l-2.4 2.4l-2.4 -2.4zM535.5 226.4l2.4 2.4l-2.4 2.4l-2.4 -2.4zM537.2 228.9l2.4 2.4l-2.4 2.4l-2.4 -2.4zM542.3 226.4l2.4 2.4l-2.4 2.4l-2.4 -2.4zM544.4 228.4l2.4 2.4l-2.4 2.4l-2.4 -2.4zM540.6 231.5l2.4 2.4l-2.4 2.4l-2.4 -2.4zM535.1 230.6l2.4 2.4l-2.4 2.4l-2.4 -2.4zM526.1 232.3l2.4 2.4l-2.4 2.4l-2.4 -2.4zM528.7 233.2l2.4 2.4l-2.4 2.4l-2.4 -2.4zM531.2 234.9l2.4 2.4l-2.4 2.4l-2.4 -2.4zM527.8 236.6l2.4 2.4l-2.4 2.4l-2.4 -2.4zM532.1 238.3l2.4 2.4l-2.4 2.4l-2.4 -2.4zM533.8 240.9l2.4 2.4l-2.4 2.4l-2.4 -2.4zM530.4 239.2l2.4 2.4l-2.4 2.4l-2.4 -2.4zM525.2 234.9l2.4 2.4l-2.4 2.4l-2.4 -2.4zM538.0 235.8l2.4 2.4l-2.4 2.4l-2.4 -2.4zM540.6 237.0l2.4 2.4l-2.4 2.4l-2.4 -2.4zM543.2 238.7l2.4 2.4l-2.4 2.4l-2.4 -2.4zM545.4 240.4l2.4 2.4l-2.4 2.4l-2.4 -2.4zM547.1 237.6l2.4 2.4l-2.4 2.4l-2.4 -2.4zM542.3 233.5l2.4 2.4l-2.4 2.4l-2.4 -2.4zM538.9 239.2l2.4 2.4l-2.4 2.4l-2.4 -2.4zM549.1 227.2l2.4 2.4l-2.4 2.4l-2.4 -2.4zM551.7 229.8l2.4 2.4l-2.4 2.4l-2.4 -2.4zM553.4 233.2l2.4 2.4l-2.4 2.4l-2.4 -2.4zM554.2 236.6l2.4 2.4l-2.4 2.4l-2.4 -2.4zM550.8 235.8l2.4 2.4l-2.4 2.4l-2.4 -2.4zM548.8 239.2l2.4 2.4l-2.4 2.4l-2.4 -2.4zM552.9 239.2l2.4 2.4l-2.4 2.4l-2.4 -2.4zM550.0 232.3l2.4 2.4l-2.4 2.4l-2.4 -2.4zM528.7 226.4l2.4 2.4l-2.4 2.4l-2.4 -2.4zM535.1 233.2l2.4 2.4l-2.4 2.4l-2.4 -2.4zM546.6 234.9l2.4 2.4l-2.4 2.4l-2.4 -2.4z"/>
<g stroke="#222" stroke-width="1" fill="none"><rect x="484.5" y="116.5" width="18.0" height="65.0"/><line x1="484.5" y1="138.5" x2="502.5" y2="138.5"/><line x1="493.5" y1="116.5" x2="493.5" y2="56.5"/><line x1="493.5" y1="181.5" x2="493.5" y2="201.5"/><line x1="489.5" y1="56.5" x2="497.5" y2="56.5"/><line x1="489.5" y1="201.5" x2="497.5" y2="201.5"/></g><rect x="492.0" y="142.0" width="3" height="3" fill="none" stroke="#a0a0a0" stroke-width="0.8"/>
<g stroke="#1010ff" stroke-width="1" fill="none"><rect x="561.5" y="232.5" width="18.0" height="7.0"/><line x1="561.5" y1="237.5" x2="579.5" y2="237.5"/><line x1="570.5" y1="232.5" x2="570.5" y2="221.5"/><line x1="570.5" y1="239.5" x2="570.5" y2="243.5"/><line x1="568.0" y1="221.5" x2="573.0" y2="221.5"/><line x1="568.0" y1="243.5" x2="573.0" y2="243.5"/></g><rect x="569.0" y="234.0" width="3" height="3" fill="none" stroke="#a0a0a0" stroke-width="0.8"/>
</g></svg>
</body></html>
